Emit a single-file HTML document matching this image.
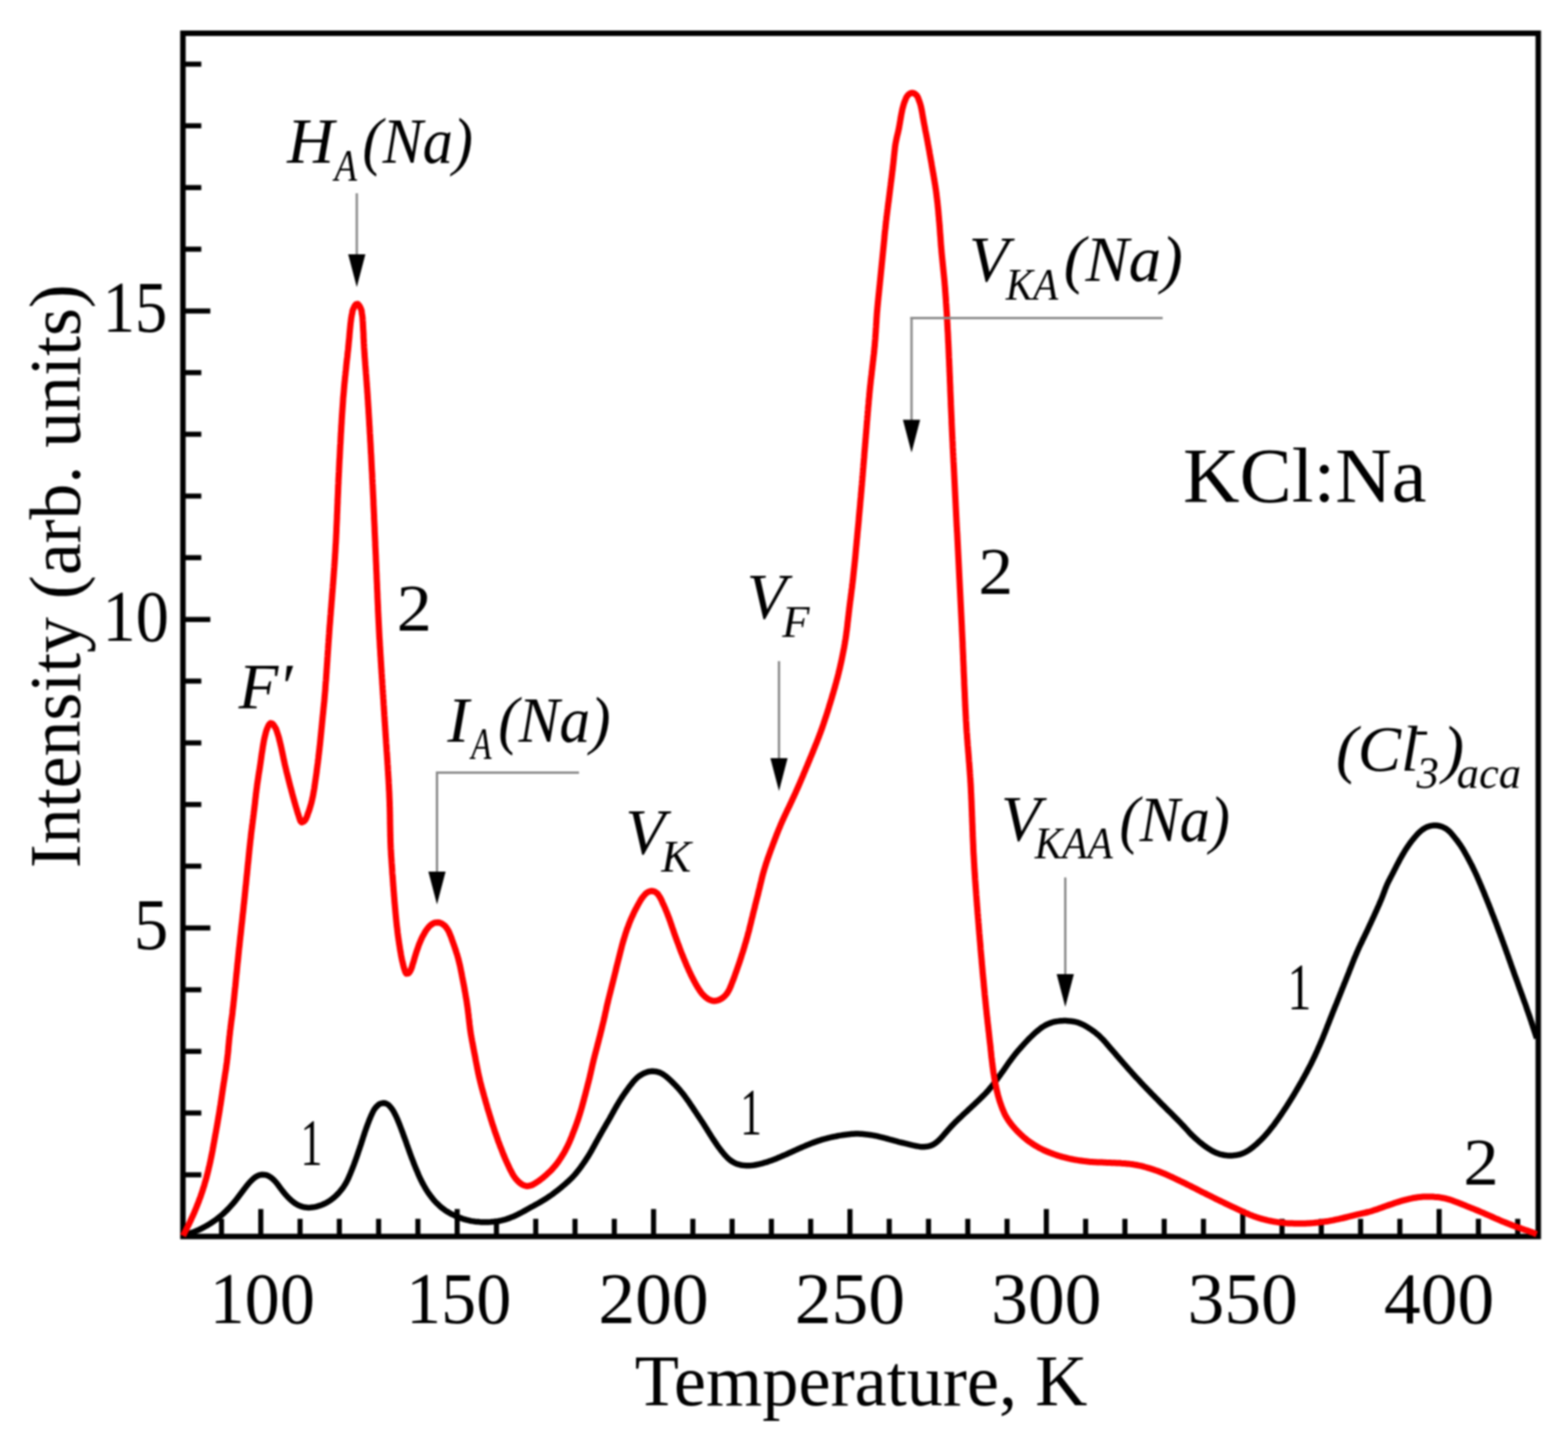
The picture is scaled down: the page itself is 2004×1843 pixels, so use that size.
<!DOCTYPE html>
<html><head><meta charset="utf-8"><title>KCl:Na</title>
<style>
html,body{margin:0;padding:0;background:#fff;overflow:hidden}
svg{display:block;filter:blur(0.8px)}
.r{font-family:"Liberation Serif","Times New Roman",serif;fill:#000}
.i{font-family:"Liberation Serif","Times New Roman",serif;font-style:italic;fill:#000}
</style></head><body>
<svg xmlns="http://www.w3.org/2000/svg" width="2004" height="1843" viewBox="0 0 2004 1843">
<rect width="2004" height="1843" fill="#fff"/>
<rect x="233.8" y="42.5" width="1732.2" height="1537.8" fill="none" stroke="#000" stroke-width="7"/>
<path d="M233.8,1501.4H257.3M233.8,1422.6H257.3M233.8,1343.7H257.3M233.8,1264.9H257.3M233.8,1186.0H268.8M233.8,1107.1H257.3M233.8,1028.3H257.3M233.8,949.4H257.3M233.8,870.6H257.3M233.8,791.7H268.8M233.8,712.8H257.3M233.8,634.0H257.3M233.8,555.1H257.3M233.8,476.3H257.3M233.8,397.4H268.8M233.8,318.5H257.3M233.8,239.7H257.3M233.8,160.8H257.3M233.8,82.0H257.3M283.1,1580.3V1557.8M333.3,1580.3V1545.3M383.5,1580.3V1557.8M433.7,1580.3V1557.8M483.9,1580.3V1557.8M534.1,1580.3V1557.8M584.3,1580.3V1545.3M634.5,1580.3V1557.8M684.7,1580.3V1557.8M734.9,1580.3V1557.8M785.1,1580.3V1557.8M835.3,1580.3V1545.3M885.5,1580.3V1557.8M935.7,1580.3V1557.8M985.9,1580.3V1557.8M1036.1,1580.3V1557.8M1086.3,1580.3V1545.3M1136.5,1580.3V1557.8M1186.7,1580.3V1557.8M1236.9,1580.3V1557.8M1287.1,1580.3V1557.8M1337.3,1580.3V1545.3M1387.5,1580.3V1557.8M1437.7,1580.3V1557.8M1487.9,1580.3V1557.8M1538.1,1580.3V1557.8M1588.3,1580.3V1545.3M1638.5,1580.3V1557.8M1688.7,1580.3V1557.8M1738.9,1580.3V1557.8M1789.1,1580.3V1557.8M1839.3,1580.3V1545.3M1889.5,1580.3V1557.8M1939.7,1580.3V1557.8" stroke="#000" stroke-width="6.5" fill="none"/>
<text x="131.3" y="424.3" class="r" font-size="94.0" textLength="82.5" lengthAdjust="spacingAndGlyphs">15</text>
<text x="131.1" y="819.0" class="r" font-size="94.0" textLength="84.7" lengthAdjust="spacingAndGlyphs">10</text>
<text x="170.9" y="1213.3" class="r" font-size="94.0" textLength="44.1" lengthAdjust="spacingAndGlyphs">5</text>
<text x="268.1" y="1690.5" class="r" font-size="94.0" textLength="134.3" lengthAdjust="spacingAndGlyphs">100</text>
<text x="519.1" y="1690.5" class="r" font-size="94.0" textLength="134.3" lengthAdjust="spacingAndGlyphs">150</text>
<text x="835.3" y="1690.5" text-anchor="middle" class="r" font-size="94">200</text>
<text x="1086.3" y="1690.5" text-anchor="middle" class="r" font-size="94">250</text>
<text x="1337.3" y="1690.5" text-anchor="middle" class="r" font-size="94">300</text>
<text x="1588.3" y="1690.5" text-anchor="middle" class="r" font-size="94">350</text>
<text x="1839.3" y="1690.5" text-anchor="middle" class="r" font-size="94">400</text>
<text x="811.3" y="1795.5" class="r" font-size="94" textLength="578.5" lengthAdjust="spacingAndGlyphs">Temperature, K</text>
<text transform="translate(102,1106) rotate(-90)" x="-3.4" y="0" class="r" font-size="94" textLength="746" lengthAdjust="spacingAndGlyphs">Intensity (arb. units)</text>
<path d="M234.0,1579.0L235.9,1578.3L237.9,1577.7L239.8,1577.1L241.7,1576.5L244.6,1575.6L246.5,1574.9L248.5,1574.2L250.4,1573.4L252.4,1572.6L254.4,1571.7L256.9,1570.5L259.4,1569.2L262.0,1567.8L263.8,1566.8L265.6,1565.7L267.4,1564.6L269.2,1563.5L270.9,1562.4L272.7,1561.2L274.3,1560.0L276.8,1558.3L279.1,1556.5L280.6,1555.3L282.3,1553.9L283.9,1552.5L285.6,1551.0L287.1,1549.5L288.7,1548.0L290.2,1546.5L291.7,1545.0L293.1,1543.5L295.1,1541.3L297.1,1539.1L299.0,1536.8L300.4,1535.2L301.7,1533.5L303.0,1531.9L304.2,1530.3L305.9,1528.0L307.6,1525.7L309.3,1523.4L310.6,1521.8L311.9,1520.0L313.3,1518.2L314.7,1516.4L316.1,1514.7L317.4,1513.1L318.7,1511.5L320.8,1509.3L322.3,1507.8L323.8,1506.5L326.0,1504.7L328.3,1503.3L330.2,1502.4L332.2,1501.7L335.1,1501.3L337.9,1501.4L340.8,1502.0L342.7,1502.8L345.2,1504.2L346.9,1505.4L348.6,1506.8L350.6,1508.7L352.3,1510.5L354.1,1512.8L355.4,1514.4L356.7,1516.2L358.1,1518.1L359.5,1520.0L360.9,1521.8L362.3,1523.5L363.6,1525.2L365.6,1527.4L367.0,1529.0L368.5,1530.6L370.0,1532.1L371.5,1533.5L373.1,1534.9L375.3,1536.7L377.6,1538.3L379.8,1539.6L381.8,1540.6L383.8,1541.4L385.9,1542.1L388.0,1542.7L390.1,1543.1L392.2,1543.3L394.2,1543.4L397.2,1543.3L399.2,1543.1L401.3,1542.8L403.5,1542.4L405.6,1541.8L407.6,1541.2L409.6,1540.6L412.3,1539.5L415.0,1538.3L417.6,1537.0L420.2,1535.4L421.9,1534.3L423.6,1533.1L425.9,1531.3L428.1,1529.4L429.6,1528.0L431.1,1526.5L432.6,1525.0L434.0,1523.4L435.4,1521.7L436.8,1520.0L438.1,1518.3L439.3,1516.6L440.9,1514.1L442.3,1511.6L443.7,1509.0L445.0,1506.4L446.2,1503.6L447.0,1501.8L447.8,1499.9L448.6,1497.9L449.4,1495.9L450.1,1494.1L451.2,1491.3L452.3,1488.6L453.3,1485.8L454.0,1483.9L454.7,1481.9L455.4,1480.0L456.1,1478.0L456.8,1476.0L457.5,1474.0L458.1,1472.0L458.8,1470.0L459.5,1468.0L460.4,1465.2L461.4,1462.4L462.0,1460.4L462.6,1458.5L463.3,1456.5L463.9,1454.5L464.5,1452.5L465.2,1450.6L465.8,1448.6L466.4,1446.7L467.4,1444.0L468.3,1441.3L469.3,1438.7L470.0,1436.6L470.9,1434.4L471.7,1432.2L472.6,1430.0L473.5,1427.8L474.4,1425.7L475.3,1423.8L476.5,1421.2L477.7,1419.0L478.9,1417.1L480.9,1414.6L482.6,1413.1L484.1,1411.6L486.1,1410.6L488.3,1410.0L490.5,1409.8L493.2,1410.3L495.6,1411.5L497.6,1413.3L499.5,1415.4L501.1,1417.5L502.5,1419.7L504.0,1422.3L504.9,1424.2L506.0,1426.3L507.0,1428.5L507.9,1430.6L508.7,1432.5L509.8,1435.1L510.8,1437.7L511.9,1440.5L512.6,1442.4L513.4,1444.4L514.1,1446.4L514.9,1448.4L515.6,1450.5L516.3,1452.5L517.1,1454.5L517.8,1456.5L518.5,1458.4L519.2,1460.3L519.8,1462.2L520.5,1464.1L521.2,1466.1L521.9,1468.0L522.6,1470.0L523.3,1471.9L524.0,1473.9L524.7,1475.8L525.4,1477.7L526.1,1479.6L527.2,1482.4L528.3,1485.2L529.0,1487.2L529.8,1489.1L530.6,1491.1L531.4,1493.1L532.2,1495.0L533.0,1496.9L533.8,1498.8L534.9,1501.5L536.1,1504.1L537.3,1506.7L538.2,1508.5L539.2,1510.5L540.2,1512.5L541.3,1514.4L542.3,1516.2L543.3,1518.0L544.3,1519.7L545.9,1522.2L547.5,1524.7L548.8,1526.4L550.0,1528.2L551.4,1529.9L552.7,1531.6L554.0,1533.2L555.3,1534.7L556.7,1536.2L558.1,1537.7L559.6,1539.1L561.1,1540.5L562.6,1541.9L564.8,1543.8L567.2,1545.6L568.8,1546.8L571.3,1548.4L573.1,1549.4L574.9,1550.5L576.9,1551.6L579.3,1552.7L581.9,1554.0L583.7,1554.8L585.7,1555.6L587.7,1556.4L589.7,1557.1L591.6,1557.8L593.6,1558.4L596.3,1559.2L598.5,1559.7L600.6,1560.2L602.8,1560.6L604.9,1560.9L607.0,1561.2L609.1,1561.4L611.1,1561.6L613.1,1561.8L615.2,1561.9L618.1,1562.0L621.1,1562.0L624.0,1561.9L627.0,1561.8L629.9,1561.6L632.9,1561.2L634.9,1561.0L636.9,1560.7L638.9,1560.3L640.9,1559.9L642.8,1559.4L644.8,1558.9L646.8,1558.3L648.8,1557.6L650.9,1556.9L652.9,1556.1L655.0,1555.3L657.6,1554.2L660.1,1553.0L662.8,1551.6L664.6,1550.7L666.4,1549.7L668.3,1548.7L670.3,1547.6L672.2,1546.6L674.1,1545.5L675.9,1544.5L678.4,1543.1L681.0,1541.7L682.7,1540.8L684.5,1539.7L686.3,1538.7L688.2,1537.7L690.0,1536.6L691.8,1535.6L693.6,1534.5L696.1,1533.0L698.6,1531.5L700.9,1529.9L702.7,1528.7L704.5,1527.5L706.2,1526.3L707.8,1525.0L709.4,1523.8L711.8,1522.0L714.1,1520.2L716.4,1518.3L718.0,1517.0L719.5,1515.7L721.1,1514.4L722.6,1513.1L724.1,1511.7L725.6,1510.4L727.1,1509.0L728.6,1507.6L730.1,1506.1L731.6,1504.6L733.1,1503.0L734.5,1501.5L736.4,1499.3L737.6,1497.7L738.9,1496.1L740.3,1494.4L741.6,1492.6L742.9,1490.8L744.2,1488.9L745.5,1487.1L746.8,1485.3L747.9,1483.6L749.5,1481.2L751.0,1478.9L752.5,1476.5L753.7,1474.6L754.7,1472.7L756.2,1470.2L757.6,1467.7L759.0,1465.2L759.9,1463.4L761.0,1461.5L762.0,1459.6L763.1,1457.7L764.2,1455.7L765.2,1453.8L766.3,1451.9L767.3,1450.1L768.8,1447.5L770.2,1445.0L771.7,1442.4L773.2,1439.8L774.7,1437.2L776.2,1434.6L777.7,1432.1L779.2,1429.5L780.6,1426.9L782.1,1424.2L783.1,1422.4L784.2,1420.5L785.2,1418.6L786.3,1416.7L787.3,1414.9L788.4,1413.0L789.4,1411.2L790.5,1409.5L791.5,1407.7L792.6,1406.0L793.7,1404.3L794.8,1402.6L795.9,1400.9L797.1,1399.2L798.2,1397.5L799.4,1395.8L800.7,1394.1L801.9,1392.4L803.1,1390.7L804.3,1389.1L806.1,1386.8L807.4,1385.2L808.7,1383.4L810.1,1381.8L811.5,1380.3L812.9,1378.8L814.3,1377.4L815.9,1376.1L817.7,1374.8L819.5,1373.7L821.3,1372.6L823.2,1371.7L825.1,1370.9L827.0,1370.2L829.9,1369.5L832.8,1369.1L835.7,1369.2L837.7,1369.4L839.7,1369.8L841.8,1370.4L843.8,1371.1L845.6,1372.0L848.1,1373.5L850.5,1375.2L852.1,1376.5L853.7,1377.9L855.3,1379.3L856.8,1380.7L858.3,1382.1L859.7,1383.5L861.2,1385.0L862.7,1386.4L864.1,1388.0L865.6,1389.5L867.0,1391.1L868.4,1392.6L870.2,1394.8L872.1,1397.1L873.9,1399.4L875.1,1401.0L876.3,1402.7L877.5,1404.3L878.7,1406.0L879.9,1407.7L881.1,1409.4L882.2,1411.1L883.4,1412.8L884.6,1414.6L885.8,1416.4L886.9,1418.1L888.1,1419.9L889.3,1421.6L890.4,1423.4L891.6,1425.1L892.7,1426.8L893.9,1428.5L895.0,1430.2L896.2,1432.0L897.3,1433.7L898.5,1435.4L899.6,1437.2L900.7,1438.9L901.8,1440.7L902.9,1442.4L904.0,1444.2L905.1,1446.0L906.2,1447.7L907.3,1449.5L908.4,1451.3L909.5,1453.0L910.6,1454.7L911.7,1456.4L912.9,1458.2L914.1,1460.0L915.4,1461.8L916.6,1463.6L917.8,1465.3L919.0,1467.0L920.3,1468.6L921.5,1470.3L922.8,1471.9L924.1,1473.5L925.5,1475.2L926.9,1476.8L928.3,1478.3L929.7,1479.8L931.9,1481.8L934.1,1483.4L935.8,1484.6L937.5,1485.6L940.2,1486.9L942.9,1487.9L945.7,1488.7L948.6,1489.2L951.5,1489.6L953.5,1489.7L955.7,1489.7L957.8,1489.7L960.5,1489.5L963.3,1489.2L966.2,1488.7L968.3,1488.3L970.3,1487.8L972.4,1487.3L974.5,1486.8L976.6,1486.2L978.5,1485.7L981.4,1484.8L983.3,1484.1L985.2,1483.4L987.1,1482.7L989.1,1482.0L991.1,1481.2L993.1,1480.4L995.1,1479.5L997.1,1478.7L999.1,1477.8L1001.0,1477.0L1003.7,1475.9L1006.4,1474.7L1008.2,1473.8L1010.1,1473.0L1012.0,1472.1L1013.9,1471.3L1015.7,1470.4L1017.6,1469.6L1019.5,1468.7L1021.3,1467.9L1024.0,1466.7L1025.9,1465.9L1027.8,1465.1L1029.7,1464.3L1031.5,1463.5L1033.4,1462.8L1035.3,1462.0L1038.0,1460.9L1040.8,1459.9L1043.6,1458.9L1046.4,1457.9L1048.3,1457.3L1050.2,1456.7L1052.1,1456.1L1054.1,1455.6L1056.0,1455.1L1058.9,1454.3L1060.9,1453.9L1062.8,1453.4L1064.8,1453.0L1066.8,1452.6L1068.8,1452.2L1070.8,1451.8L1072.7,1451.4L1074.7,1451.1L1076.8,1450.8L1078.8,1450.5L1080.9,1450.2L1082.9,1449.9L1085.0,1449.7L1087.1,1449.5L1089.1,1449.3L1091.1,1449.2L1093.2,1449.1L1095.2,1449.1L1097.2,1449.1L1099.3,1449.2L1101.4,1449.3L1103.5,1449.5L1105.6,1449.7L1107.6,1449.9L1109.7,1450.2L1111.8,1450.5L1113.8,1450.8L1115.9,1451.1L1117.9,1451.5L1119.9,1451.9L1122.0,1452.3L1124.0,1452.8L1126.1,1453.3L1128.2,1453.8L1130.3,1454.4L1132.4,1455.0L1134.5,1455.5L1136.5,1456.1L1138.4,1456.6L1141.3,1457.4L1144.0,1458.2L1146.1,1458.7L1148.2,1459.3L1150.2,1459.8L1153.1,1460.5L1155.9,1461.2L1157.9,1461.7L1159.9,1462.2L1162.8,1462.9L1164.9,1463.4L1167.0,1463.9L1169.2,1464.3L1171.3,1464.8L1173.3,1465.1L1175.3,1465.4L1178.2,1465.7L1181.0,1465.7L1183.2,1465.6L1185.3,1465.3L1187.2,1464.9L1189.9,1464.1L1192.4,1463.0L1194.8,1461.6L1197.1,1459.8L1198.8,1458.4L1200.8,1456.5L1202.6,1454.6L1204.5,1452.5L1205.9,1450.9L1207.3,1449.2L1208.8,1447.5L1210.3,1445.8L1211.7,1444.1L1213.2,1442.5L1214.6,1440.9L1216.0,1439.4L1217.4,1437.9L1218.8,1436.5L1220.2,1435.0L1221.6,1433.6L1223.1,1432.2L1224.5,1430.8L1226.7,1428.7L1228.9,1426.7L1231.0,1424.6L1232.5,1423.2L1234.1,1421.8L1235.6,1420.4L1237.1,1419.0L1238.6,1417.6L1240.1,1416.2L1241.6,1414.8L1243.2,1413.3L1244.7,1411.9L1246.2,1410.5L1247.7,1409.1L1249.2,1407.7L1250.6,1406.3L1252.1,1404.9L1253.5,1403.5L1255.0,1402.1L1256.4,1400.6L1257.9,1399.2L1259.3,1397.7L1260.8,1396.1L1262.2,1394.6L1263.6,1393.0L1265.5,1390.7L1267.4,1388.4L1268.7,1386.9L1269.9,1385.3L1271.2,1383.6L1272.4,1381.9L1273.7,1380.3L1274.9,1378.6L1276.1,1376.9L1277.3,1375.3L1278.5,1373.7L1279.6,1372.0L1280.9,1370.3L1282.1,1368.6L1283.3,1366.8L1284.5,1365.1L1285.7,1363.3L1286.9,1361.6L1288.1,1359.9L1289.3,1358.2L1290.5,1356.5L1291.7,1354.9L1292.9,1353.3L1294.1,1351.7L1295.4,1350.0L1296.7,1348.3L1298.0,1346.7L1299.3,1345.1L1300.6,1343.5L1301.9,1342.0L1303.3,1340.5L1304.6,1339.0L1305.9,1337.5L1307.3,1336.0L1308.6,1334.5L1310.0,1333.0L1311.4,1331.5L1312.8,1330.0L1314.2,1328.5L1316.3,1326.4L1318.4,1324.4L1320.4,1322.4L1322.7,1320.3L1324.3,1318.9L1326.0,1317.5L1327.7,1316.1L1329.3,1314.8L1331.0,1313.5L1332.7,1312.4L1335.2,1310.9L1337.0,1309.9L1338.9,1309.0L1340.9,1308.1L1342.9,1307.4L1344.9,1306.7L1346.9,1306.2L1348.9,1305.7L1351.0,1305.4L1353.1,1305.1L1355.3,1304.8L1357.4,1304.7L1359.6,1304.6L1361.8,1304.6L1363.9,1304.7L1366.9,1304.9L1369.8,1305.2L1372.8,1305.7L1375.7,1306.4L1378.5,1307.2L1380.4,1308.0L1382.3,1308.8L1384.2,1309.7L1386.2,1310.7L1388.1,1311.8L1390.0,1312.9L1391.8,1314.1L1394.3,1315.7L1396.7,1317.4L1398.4,1318.6L1400.0,1319.8L1401.6,1321.2L1403.3,1322.5L1404.9,1323.9L1406.3,1325.3L1408.3,1327.3L1410.2,1329.2L1412.0,1331.3L1413.4,1332.8L1414.8,1334.5L1416.2,1336.2L1417.8,1338.0L1419.3,1339.8L1420.6,1341.3L1422.3,1343.2L1423.9,1345.1L1425.7,1347.1L1427.5,1349.3L1429.5,1351.6L1430.9,1353.1L1432.3,1354.8L1433.7,1356.4L1435.1,1358.0L1436.5,1359.6L1438.0,1361.3L1439.4,1362.9L1440.8,1364.5L1442.3,1366.2L1443.7,1367.8L1445.1,1369.3L1446.5,1370.9L1447.8,1372.4L1449.2,1373.9L1450.5,1375.4L1451.9,1376.9L1453.3,1378.3L1454.7,1379.8L1456.1,1381.3L1457.4,1382.8L1458.8,1384.3L1460.2,1385.7L1461.6,1387.2L1463.0,1388.7L1464.4,1390.1L1465.8,1391.6L1467.2,1393.0L1468.6,1394.5L1470.0,1395.9L1471.4,1397.4L1472.8,1398.8L1474.9,1400.9L1477.0,1403.1L1479.1,1405.2L1480.5,1406.6L1481.9,1408.1L1483.4,1409.6L1484.8,1411.1L1486.3,1412.6L1487.9,1414.1L1489.4,1415.6L1490.9,1417.1L1492.4,1418.7L1494.0,1420.2L1495.5,1421.7L1497.0,1423.2L1498.5,1424.7L1499.9,1426.1L1501.3,1427.5L1503.4,1429.6L1505.3,1431.5L1507.1,1433.4L1508.9,1435.2L1510.3,1436.7L1511.9,1438.4L1513.5,1440.1L1515.0,1441.8L1516.4,1443.3L1517.8,1444.8L1519.7,1446.9L1521.6,1449.0L1523.6,1451.0L1525.8,1453.0L1527.3,1454.5L1528.9,1455.9L1530.5,1457.3L1532.1,1458.7L1533.6,1460.0L1535.2,1461.2L1536.8,1462.5L1538.4,1463.7L1540.0,1464.9L1541.7,1466.1L1543.5,1467.3L1545.3,1468.5L1547.1,1469.6L1548.9,1470.7L1550.7,1471.7L1552.5,1472.6L1555.2,1473.8L1558.1,1474.8L1560.1,1475.4L1562.1,1475.8L1564.1,1476.2L1566.1,1476.6L1568.2,1476.8L1570.2,1476.9L1572.2,1477.0L1574.2,1476.9L1576.3,1476.8L1578.4,1476.6L1580.4,1476.3L1582.5,1475.9L1584.5,1475.5L1587.3,1474.5L1590.0,1473.4L1591.8,1472.5L1593.6,1471.5L1595.4,1470.4L1597.1,1469.3L1598.8,1468.0L1600.5,1466.7L1602.1,1465.5L1603.6,1464.2L1605.2,1462.9L1606.7,1461.5L1608.2,1460.1L1609.8,1458.6L1611.3,1457.1L1612.8,1455.6L1614.3,1454.1L1616.3,1451.9L1618.2,1449.7L1620.2,1447.5L1621.5,1445.9L1622.8,1444.4L1624.0,1442.7L1625.3,1441.1L1626.6,1439.5L1627.9,1437.9L1629.1,1436.3L1630.2,1434.6L1631.4,1433.0L1632.6,1431.3L1633.8,1429.7L1635.0,1428.0L1636.2,1426.2L1637.4,1424.5L1638.5,1422.8L1639.7,1421.0L1640.8,1419.3L1641.9,1417.7L1643.1,1415.9L1644.2,1414.2L1645.3,1412.4L1646.5,1410.6L1647.6,1408.8L1648.7,1407.1L1649.8,1405.3L1651.4,1402.8L1652.8,1400.4L1653.9,1398.7L1654.9,1396.9L1656.4,1394.4L1657.8,1392.0L1659.3,1389.4L1660.4,1387.5L1661.5,1385.5L1662.8,1383.3L1664.1,1381.0L1665.4,1378.6L1666.9,1376.0L1667.9,1374.1L1668.9,1372.3L1669.9,1370.4L1670.9,1368.5L1671.9,1366.6L1672.9,1364.7L1673.9,1362.8L1674.9,1361.0L1675.8,1359.1L1677.1,1356.4L1678.0,1354.6L1678.9,1352.7L1679.8,1350.8L1680.7,1349.0L1681.5,1347.1L1682.4,1345.2L1683.3,1343.3L1684.1,1341.4L1684.9,1339.6L1685.7,1337.7L1686.6,1335.8L1687.4,1333.9L1688.2,1332.0L1689.0,1330.1L1689.8,1328.2L1690.6,1326.4L1691.3,1324.5L1692.1,1322.6L1692.8,1320.7L1693.6,1318.9L1694.3,1317.0L1695.1,1315.1L1695.8,1313.2L1696.5,1311.3L1697.3,1309.5L1698.0,1307.6L1698.8,1305.7L1699.5,1303.8L1700.2,1301.9L1701.0,1300.1L1701.7,1298.2L1702.5,1296.3L1703.2,1294.4L1704.0,1292.5L1704.7,1290.7L1705.5,1288.8L1706.2,1286.9L1707.0,1285.0L1707.8,1283.1L1708.5,1281.3L1709.3,1279.4L1710.0,1277.5L1710.8,1275.6L1711.5,1273.7L1712.3,1271.9L1713.0,1270.0L1713.8,1268.1L1714.5,1266.2L1715.3,1264.3L1716.0,1262.5L1716.8,1260.6L1717.5,1258.7L1718.3,1256.8L1719.1,1254.9L1719.8,1253.1L1720.6,1251.2L1721.3,1249.3L1722.1,1247.4L1722.8,1245.5L1723.6,1243.7L1724.3,1241.8L1725.0,1239.9L1725.8,1238.0L1726.5,1236.1L1727.3,1234.2L1728.0,1232.4L1728.7,1230.5L1729.5,1228.6L1730.2,1226.7L1731.0,1224.8L1731.8,1223.0L1732.6,1221.1L1733.4,1219.2L1734.2,1217.3L1735.0,1215.5L1736.2,1212.8L1737.0,1210.9L1737.9,1209.1L1738.7,1207.3L1739.6,1205.5L1740.5,1203.7L1741.3,1201.8L1742.2,1200.0L1743.1,1198.2L1744.0,1196.4L1744.8,1194.6L1745.7,1192.8L1747.0,1190.1L1748.3,1187.3L1749.1,1185.5L1750.0,1183.6L1750.9,1181.7L1751.8,1179.8L1752.7,1177.8L1753.6,1175.9L1754.5,1173.9L1755.4,1172.0L1756.2,1170.2L1757.4,1167.5L1758.6,1164.9L1759.7,1162.5L1760.7,1160.1L1761.7,1158.0L1762.6,1156.0L1763.4,1154.0L1764.2,1152.1L1765.4,1149.5L1766.4,1146.9L1767.4,1144.3L1768.2,1142.2L1769.0,1140.2L1769.7,1138.2L1770.4,1136.2L1771.2,1134.3L1772.0,1132.3L1772.8,1130.4L1773.7,1128.5L1774.6,1126.6L1775.6,1124.7L1776.6,1122.8L1777.6,1120.8L1778.6,1119.0L1779.5,1117.1L1780.5,1115.3L1781.4,1113.4L1782.3,1111.6L1783.3,1109.8L1784.2,1107.9L1785.1,1106.1L1786.1,1104.2L1787.1,1102.4L1788.1,1100.5L1789.1,1098.6L1790.1,1096.7L1791.2,1094.9L1792.2,1093.0L1793.3,1091.2L1794.4,1089.4L1795.4,1087.7L1796.5,1085.9L1797.6,1084.2L1798.8,1082.5L1799.9,1080.8L1801.6,1078.3L1802.9,1076.6L1804.1,1075.0L1805.4,1073.4L1806.7,1071.8L1808.0,1070.2L1809.4,1068.6L1810.8,1067.0L1812.3,1065.4L1813.8,1063.9L1815.4,1062.4L1817.7,1060.6L1819.4,1059.4L1821.3,1058.3L1823.2,1057.3L1825.2,1056.5L1827.2,1055.9L1829.3,1055.4L1831.4,1055.1L1833.5,1055.0L1835.6,1055.1L1837.7,1055.3L1839.8,1055.7L1841.9,1056.3L1843.9,1057.0L1846.5,1058.3L1848.2,1059.3L1850.6,1061.1L1852.7,1062.9L1854.7,1065.0L1856.0,1066.6L1857.4,1068.2L1859.2,1070.5L1860.9,1072.7L1862.8,1075.0L1864.0,1076.8L1865.4,1078.7L1866.8,1080.7L1868.1,1082.7L1869.4,1084.7L1870.7,1087.0L1872.1,1089.4L1873.1,1091.2L1874.1,1093.0L1875.2,1094.9L1876.2,1096.8L1877.2,1098.8L1878.3,1100.8L1879.3,1102.8L1880.4,1104.8L1881.4,1106.8L1882.4,1108.8L1883.3,1110.8L1884.3,1112.7L1885.5,1115.3L1886.7,1117.8L1887.9,1120.5L1889.0,1123.1L1890.2,1125.8L1891.0,1127.7L1891.8,1129.5L1892.6,1131.4L1893.4,1133.3L1894.2,1135.2L1895.0,1137.1L1895.8,1139.0L1896.6,1140.9L1897.3,1142.8L1898.1,1144.7L1898.9,1146.6L1899.7,1148.6L1900.5,1150.5L1901.2,1152.4L1902.0,1154.3L1903.1,1157.0L1904.2,1159.8L1905.3,1162.5L1906.3,1165.3L1907.4,1168.1L1908.1,1169.9L1908.9,1171.8L1909.6,1173.7L1910.3,1175.6L1911.0,1177.5L1911.8,1179.4L1912.5,1181.3L1913.2,1183.2L1913.9,1185.1L1914.6,1187.0L1915.3,1188.9L1916.0,1190.8L1916.8,1192.8L1917.5,1194.7L1918.2,1196.6L1918.9,1198.5L1919.9,1201.3L1921.0,1204.1L1922.0,1207.0L1922.7,1208.8L1923.4,1210.7L1924.0,1212.6L1924.7,1214.5L1925.4,1216.4L1926.1,1218.4L1926.8,1220.3L1927.5,1222.2L1928.1,1224.1L1928.8,1226.0L1929.5,1227.9L1930.2,1229.9L1930.9,1231.8L1931.5,1233.7L1932.2,1235.6L1932.9,1237.5L1933.6,1239.5L1934.3,1241.4L1934.9,1243.3L1935.6,1245.2L1936.3,1247.1L1937.0,1249.0L1937.7,1250.9L1938.4,1252.8L1939.1,1254.8L1939.8,1256.7L1940.5,1258.7L1941.2,1260.7L1941.9,1262.7L1942.6,1264.7L1943.4,1266.7L1944.1,1268.7L1944.8,1270.6L1945.5,1272.6L1946.2,1274.6L1946.9,1276.5L1947.6,1278.5L1948.3,1280.4L1949.0,1282.3L1950.0,1285.1L1950.9,1287.8L1951.8,1290.4L1952.7,1292.9L1953.6,1295.5L1954.3,1297.6L1955.1,1299.8L1955.8,1302.0L1956.5,1304.1L1957.2,1306.1L1957.8,1308.1L1958.5,1310.0L1959.4,1312.8L1960.3,1315.5L1961.2,1318.4L1962.1,1321.2L1962.7,1323.1L1963.4,1325.1L1964.0,1327.0" fill="none" stroke="#000" stroke-width="7.5" stroke-linejoin="round"/>
<path d="M234.0,1579.5L234.9,1577.6L235.8,1575.8L236.7,1573.9L237.7,1572.1L238.6,1570.3L239.5,1568.4L240.4,1566.6L241.3,1564.8L242.2,1563.0L243.1,1561.1L244.0,1559.2L244.8,1557.3L245.7,1555.4L246.6,1553.5L247.4,1551.6L248.3,1549.7L249.0,1547.9L249.8,1546.0L250.6,1544.2L251.3,1542.3L252.1,1540.4L252.8,1538.5L253.6,1536.5L254.3,1534.6L255.0,1532.6L255.8,1530.7L256.5,1528.7L257.1,1526.8L257.8,1524.9L258.5,1522.9L259.1,1521.0L259.7,1519.0L260.3,1517.1L261.0,1515.1L261.5,1513.2L262.1,1511.2L262.7,1509.2L263.2,1507.3L263.8,1505.3L264.3,1503.3L264.8,1501.3L265.3,1499.4L265.8,1497.4L266.3,1495.4L266.7,1493.4L267.2,1491.4L267.7,1489.4L268.1,1487.5L268.6,1485.5L269.0,1483.5L269.4,1481.5L269.8,1479.6L270.2,1477.6L270.6,1475.6L271.0,1473.7L271.4,1471.7L271.8,1469.7L272.1,1467.7L272.5,1465.8L272.8,1463.8L273.2,1461.8L273.6,1459.8L273.9,1457.8L274.3,1455.9L274.6,1453.9L275.0,1451.9L275.3,1449.9L275.7,1448.0L276.1,1446.0L276.4,1444.0L276.8,1442.0L277.1,1440.1L277.5,1438.1L277.8,1436.1L278.2,1434.1L278.5,1432.2L279.0,1429.2L279.5,1426.3L280.0,1423.3L280.5,1420.3L280.8,1418.3L281.1,1416.3L281.4,1414.2L281.8,1412.2L282.1,1410.2L282.4,1408.1L282.7,1406.1L283.0,1404.1L283.3,1402.0L283.6,1400.0L283.9,1398.0L284.2,1395.9L284.5,1393.9L284.8,1391.9L285.1,1389.8L285.4,1387.8L285.7,1385.8L286.0,1383.7L286.4,1381.7L286.7,1379.7L287.0,1377.6L287.3,1375.6L287.6,1373.5L287.9,1371.5L288.3,1369.5L288.6,1367.4L288.9,1365.4L289.2,1363.3L289.4,1361.3L289.7,1359.3L290.0,1357.2L290.2,1355.2L290.5,1353.1L290.7,1351.1L290.9,1349.1L291.2,1347.0L291.4,1345.0L291.6,1343.0L291.8,1340.9L291.9,1338.9L292.1,1336.9L292.3,1334.8L292.5,1332.8L292.7,1330.7L292.9,1328.7L293.1,1326.6L293.3,1324.5L293.6,1322.5L293.8,1320.5L294.1,1317.5L294.5,1314.7L294.8,1311.9L295.2,1309.2L295.5,1306.3L295.9,1303.4L296.2,1301.4L296.5,1299.2L296.8,1296.9L297.1,1294.4L297.3,1292.0L297.6,1289.5L297.9,1287.1L298.2,1284.8L298.4,1282.3L298.7,1279.8L299.0,1277.1L299.3,1274.2L299.6,1271.2L299.8,1269.2L300.0,1267.2L300.2,1265.1L300.4,1263.1L300.7,1261.0L300.9,1258.9L301.1,1256.8L301.3,1254.7L301.5,1252.5L301.7,1250.4L301.9,1248.3L302.1,1246.1L302.4,1243.9L302.6,1241.8L302.8,1239.7L303.0,1237.5L303.2,1235.4L303.4,1233.3L303.6,1231.2L303.9,1229.1L304.1,1227.0L304.3,1225.0L304.5,1222.9L304.7,1220.9L305.0,1218.0L305.2,1215.9L305.4,1213.9L305.6,1211.9L305.9,1209.9L306.1,1207.9L306.3,1205.9L306.6,1202.9L306.9,1200.0L307.2,1197.0L307.6,1194.1L307.9,1191.1L308.2,1188.2L308.5,1185.2L308.8,1182.3L309.2,1179.3L309.5,1176.4L309.8,1173.4L310.1,1170.4L310.3,1168.4L310.6,1166.4L310.8,1164.4L311.0,1162.3L311.2,1160.3L311.4,1158.3L311.6,1156.2L311.9,1154.1L312.1,1152.0L312.3,1150.0L312.6,1147.1L312.9,1144.2L313.2,1141.2L313.4,1139.2L313.6,1137.1L313.8,1135.0L314.0,1132.9L314.3,1130.8L314.5,1128.7L314.7,1126.5L314.9,1124.4L315.1,1122.2L315.3,1120.1L315.6,1117.9L315.8,1115.7L316.0,1113.6L316.2,1111.4L316.4,1109.3L316.6,1107.1L316.8,1105.0L317.1,1102.9L317.3,1100.8L317.5,1098.6L317.7,1096.6L317.9,1094.5L318.1,1092.5L318.3,1090.5L318.5,1088.5L318.8,1085.5L319.1,1082.7L319.4,1080.0L319.7,1077.5L319.9,1075.2L320.2,1072.8L320.5,1070.6L320.7,1068.1L321.0,1065.6L321.3,1063.1L321.6,1060.7L321.9,1058.5L322.2,1056.4L322.4,1054.4L322.8,1051.5L323.1,1048.7L323.5,1046.0L323.8,1043.3L324.2,1040.5L324.5,1037.6L324.8,1035.6L325.0,1033.5L325.3,1031.4L325.5,1029.3L325.8,1027.3L326.0,1025.2L326.2,1023.2L326.4,1021.2L326.7,1019.2L327.0,1016.2L327.2,1014.2L327.5,1012.3L327.7,1010.3L328.0,1008.2L328.3,1006.2L328.5,1004.2L328.8,1002.2L329.1,1000.1L329.4,998.1L329.7,996.1L330.0,994.1L330.3,992.0L330.6,990.0L330.9,988.0L331.3,986.0L331.6,984.0L331.9,982.0L332.2,980.0L332.5,978.0L332.8,976.0L333.1,973.9L333.4,971.7L333.7,969.6L334.0,967.4L334.3,965.2L334.6,963.0L335.0,960.8L335.3,958.8L335.6,956.8L336.0,954.0L336.5,951.3L336.9,948.8L337.4,946.4L337.8,944.1L338.3,942.0L338.8,940.0L339.3,938.0L340.0,935.2L340.7,933.1L341.7,930.5L342.8,928.0L344.1,925.8L345.8,924.3L348.0,924.9L349.7,926.6L351.2,928.9L352.6,931.3L353.5,933.6L354.3,936.1L355.2,938.9L355.9,941.0L356.5,943.1L357.0,945.4L357.6,947.6L358.1,949.6L358.7,952.3L359.4,955.1L360.0,958.0L360.4,960.0L360.9,962.1L361.3,964.3L361.8,966.4L362.2,968.6L362.7,970.7L363.1,972.8L363.6,974.9L364.0,977.0L364.5,978.9L365.2,981.9L365.7,983.9L366.1,985.9L366.6,987.9L367.2,990.0L367.7,992.0L368.2,994.0L368.7,996.0L369.2,998.0L369.9,1000.8L370.6,1003.5L371.3,1006.2L371.9,1008.1L372.4,1010.3L373.0,1012.4L373.5,1014.5L374.1,1016.6L374.6,1018.5L375.4,1021.3L376.1,1024.0L376.9,1026.7L377.5,1028.8L378.1,1030.9L378.7,1032.9L379.3,1034.8L380.1,1037.6L380.9,1040.3L381.6,1042.3L382.4,1044.7L383.2,1047.2L384.1,1049.4L385.6,1051.0L388.5,1049.8L390.1,1048.1L391.1,1046.3L392.1,1044.0L392.9,1042.0L393.5,1039.9L394.3,1038.0L395.0,1035.9L395.7,1033.9L396.5,1031.1L397.1,1029.1L397.7,1027.0L398.2,1025.0L398.7,1022.9L399.1,1021.0L399.6,1019.0L400.0,1016.9L400.4,1014.9L400.7,1012.9L401.1,1010.9L401.6,1008.1L402.0,1005.2L402.3,1003.2L402.6,1001.1L403.0,998.3L403.4,995.6L403.8,992.8L404.1,990.8L404.4,988.7L404.7,986.6L404.9,984.4L405.2,982.2L405.5,979.9L405.8,977.8L406.2,975.0L406.5,972.1L406.9,969.2L407.1,967.2L407.3,965.1L407.6,963.1L407.8,961.0L408.1,958.9L408.3,956.8L408.5,954.7L408.8,952.6L409.0,950.6L409.2,948.6L409.4,946.5L409.6,944.5L409.8,942.5L410.0,940.5L410.2,938.5L410.4,936.5L410.6,934.5L410.8,932.4L411.0,930.4L411.2,928.4L411.4,926.3L411.6,924.3L411.8,922.2L412.0,920.2L412.2,918.1L412.5,915.2L412.8,912.5L413.1,909.8L413.3,907.2L413.6,904.4L413.9,901.5L414.1,899.3L414.4,897.0L414.6,894.5L414.8,891.9L415.0,889.4L415.2,887.2L415.4,885.0L415.6,882.8L415.8,880.4L415.9,877.9L416.1,875.3L416.3,872.5L416.6,869.6L416.8,866.7L417.0,863.7L417.1,861.7L417.3,859.7L417.4,857.6L417.5,855.6L417.7,853.5L417.8,851.4L418.0,849.2L418.1,847.1L418.3,845.0L418.4,842.8L418.5,840.7L418.7,838.5L418.8,836.3L419.0,834.1L419.1,832.0L419.3,829.8L419.4,827.6L419.6,825.4L419.7,823.2L419.9,821.0L420.0,818.8L420.2,816.6L420.4,814.4L420.5,812.2L420.7,810.0L420.8,807.9L421.0,805.2L421.2,802.4L421.4,799.6L421.7,796.8L421.9,793.9L422.1,791.0L422.3,788.0L422.6,785.1L422.8,782.1L423.0,779.1L423.2,777.1L423.4,775.1L423.5,773.1L423.7,771.1L423.8,769.1L424.0,767.1L424.2,765.1L424.3,763.0L424.5,761.0L424.6,759.0L424.8,757.0L425.0,754.9L425.1,752.9L425.3,750.8L425.4,748.8L425.6,746.8L425.8,744.7L425.9,742.7L426.1,740.6L426.2,738.6L426.4,736.5L426.5,734.5L426.7,732.5L426.8,730.4L427.0,728.4L427.1,726.3L427.3,724.3L427.4,722.3L427.6,720.2L427.7,718.2L427.8,716.2L428.0,714.1L428.1,712.1L428.2,710.1L428.3,708.1L428.5,706.1L428.6,704.1L428.7,702.1L428.8,700.1L428.9,698.1L429.0,696.1L429.2,694.1L429.3,692.1L429.4,690.1L429.5,688.0L429.6,686.0L429.7,684.0L429.8,682.0L429.9,680.0L430.0,678.0L430.0,675.9L430.1,673.9L430.2,671.9L430.3,669.9L430.4,667.9L430.5,665.9L430.6,663.8L430.7,661.8L430.7,659.8L430.8,657.8L430.9,655.8L431.0,653.7L431.1,651.7L431.1,649.7L431.2,647.7L431.3,645.7L431.4,643.7L431.5,641.7L431.5,639.6L431.6,637.6L431.7,635.6L431.8,633.6L431.9,631.6L432.0,629.6L432.1,626.6L432.2,623.6L432.3,620.7L432.5,617.7L432.6,614.7L432.7,611.8L432.9,608.8L433.0,605.9L433.2,603.0L433.3,600.1L433.4,598.1L433.5,596.0L433.6,593.9L433.7,591.8L433.8,589.7L433.9,587.6L434.1,585.5L434.2,583.4L434.3,581.3L434.4,579.2L434.5,577.1L434.6,575.0L434.7,572.9L434.8,570.8L434.9,568.7L435.1,566.5L435.2,564.5L435.3,562.4L435.4,560.3L435.5,558.2L435.6,556.1L435.7,554.0L435.9,551.9L436.0,549.9L436.1,547.8L436.2,545.8L436.3,543.7L436.5,541.7L436.6,539.6L436.7,537.6L436.8,535.6L437.0,532.6L437.2,529.6L437.4,526.7L437.6,523.8L437.8,521.0L438.0,518.2L438.2,515.5L438.4,512.9L438.5,510.3L438.7,507.8L439.0,505.0L439.2,502.7L439.4,500.3L439.6,497.8L439.8,495.4L440.0,492.9L440.2,490.6L440.5,488.3L440.7,486.0L440.9,483.7L441.1,481.5L441.4,479.2L441.6,477.0L441.8,474.8L442.1,472.7L442.3,470.6L442.5,468.5L442.7,466.4L443.0,463.5L443.3,460.8L443.6,458.2L443.9,455.9L444.1,453.8L444.3,451.7L444.6,449.1L444.9,446.7L445.1,444.6L445.4,441.8L445.6,439.1L445.9,436.2L446.2,433.3L446.5,430.4L446.6,428.3L446.8,426.2L447.0,424.1L447.2,421.9L447.4,419.8L447.6,417.8L447.8,415.8L448.0,413.7L448.3,411.5L448.6,409.3L448.8,407.1L449.2,405.0L449.5,402.9L450.2,400.1L450.5,397.5L451.2,395.6L452.3,393.0L453.5,390.7L454.9,388.9L457.2,388.5L459.2,390.7L460.5,393.0L461.6,395.6L462.2,397.6L462.4,400.2L462.9,402.9L463.2,405.0L463.4,407.1L463.5,409.3L463.7,411.5L463.8,413.6L463.9,415.8L464.0,417.8L464.1,419.8L464.2,421.9L464.4,424.1L464.5,426.2L464.6,428.3L464.6,430.4L464.7,432.4L464.9,435.2L465.0,438.2L465.2,440.9L465.3,443.7L465.5,446.7L465.7,449.1L465.8,451.7L466.0,453.8L466.1,455.9L466.3,458.2L466.5,460.8L466.7,463.5L466.9,466.4L467.1,468.5L467.2,470.6L467.4,472.7L467.6,474.8L467.7,477.0L467.9,479.2L468.1,481.4L468.2,483.7L468.4,486.0L468.6,488.3L468.7,490.6L468.9,493.0L469.1,495.4L469.3,497.8L469.4,500.3L469.6,502.7L469.8,505.0L469.9,507.8L470.1,510.3L470.3,512.8L470.4,515.4L470.6,518.1L470.8,520.9L471.0,523.7L471.1,526.6L471.3,529.5L471.5,532.5L471.7,535.5L471.8,537.5L471.9,539.5L472.0,541.5L472.1,543.5L472.3,545.6L472.4,547.6L472.5,549.7L472.6,551.7L472.7,553.8L472.9,555.9L473.0,557.9L473.1,560.0L473.2,562.1L473.3,564.2L473.5,566.3L473.6,568.4L473.7,570.5L473.8,572.6L473.9,574.7L474.0,576.8L474.1,578.9L474.3,580.9L474.4,583.0L474.5,585.1L474.6,587.2L474.7,589.3L474.8,591.4L474.9,593.5L475.0,595.6L475.1,597.6L475.2,599.7L475.4,602.7L475.6,605.6L475.7,608.5L475.8,611.5L476.0,614.4L476.1,617.4L476.3,620.4L476.4,623.4L476.5,625.4L476.6,627.4L476.7,629.4L476.8,631.4L476.9,633.4L477.0,635.4L477.1,637.4L477.2,639.4L477.3,641.5L477.3,643.5L477.4,645.5L477.5,647.5L477.6,649.5L477.7,651.5L477.8,653.6L477.9,655.6L478.0,657.6L478.1,659.6L478.1,661.7L478.2,663.7L478.3,665.7L478.4,667.7L478.5,669.7L478.6,671.8L478.7,673.8L478.8,675.8L478.8,677.8L478.9,679.9L479.0,681.9L479.1,683.9L479.2,685.9L479.3,688.0L479.4,690.0L479.5,692.0L479.6,694.0L479.6,696.1L479.7,698.1L479.8,700.1L479.9,702.1L480.0,704.1L480.1,707.1L480.3,710.1L480.4,713.1L480.5,716.1L480.6,718.1L480.7,720.1L480.8,722.1L480.9,724.1L480.9,726.1L481.0,728.1L481.1,730.1L481.2,732.1L481.3,734.1L481.4,736.1L481.4,738.1L481.5,740.1L481.6,742.1L481.7,744.1L481.8,746.1L481.9,748.1L481.9,750.1L482.0,752.1L482.1,754.1L482.2,756.1L482.3,758.1L482.4,760.1L482.4,762.1L482.5,764.1L482.6,766.1L482.7,768.2L482.8,770.2L482.9,772.2L483.0,774.2L483.1,776.2L483.1,778.2L483.2,780.2L483.3,782.2L483.4,784.2L483.5,786.2L483.6,788.2L483.7,790.2L483.8,792.2L483.9,794.2L484.0,796.2L484.1,798.2L484.2,800.2L484.3,802.2L484.4,804.2L484.5,806.2L484.6,808.2L484.7,810.2L484.8,812.2L484.9,814.2L485.0,816.2L485.2,818.2L485.3,820.2L485.4,822.2L485.5,824.2L485.6,826.2L485.7,828.2L485.9,830.2L486.0,832.2L486.1,834.2L486.2,836.2L486.3,838.2L486.5,840.2L486.6,842.2L486.7,844.2L486.8,846.2L487.0,848.2L487.1,850.2L487.2,852.2L487.3,854.2L487.5,856.2L487.6,858.3L487.7,860.3L487.9,862.3L488.0,864.3L488.1,866.3L488.3,868.3L488.4,870.3L488.5,872.3L488.6,874.3L488.8,876.3L488.9,878.3L489.0,880.3L489.2,882.3L489.3,884.3L489.4,886.3L489.6,888.3L489.7,890.3L489.8,892.3L490.0,894.3L490.1,896.3L490.2,898.3L490.3,900.3L490.5,902.3L490.6,904.3L490.7,906.3L490.9,909.3L491.1,912.3L491.2,914.3L491.4,916.3L491.5,918.3L491.6,920.3L491.7,922.4L491.9,924.4L492.0,926.5L492.2,928.5L492.3,930.6L492.4,932.7L492.6,934.7L492.7,936.8L492.8,938.9L493.0,941.0L493.1,943.1L493.3,945.2L493.4,947.2L493.5,949.3L493.7,951.4L493.8,953.5L494.0,955.6L494.1,957.7L494.2,959.8L494.4,961.8L494.5,963.9L494.7,966.0L494.8,968.0L494.9,970.1L495.1,972.2L495.2,974.2L495.3,976.3L495.5,978.3L495.6,980.3L495.7,982.3L495.8,984.3L496.0,986.3L496.1,989.3L496.3,992.3L496.5,995.2L496.7,998.1L496.8,1001.0L497.0,1003.8L497.1,1006.5L497.2,1009.1L497.4,1011.7L497.5,1014.2L497.6,1017.0L497.7,1019.4L497.8,1021.7L497.9,1024.1L498.0,1026.5L498.0,1028.8L498.1,1031.0L498.2,1033.3L498.2,1035.5L498.3,1037.7L498.3,1039.8L498.4,1042.0L498.4,1044.1L498.4,1046.3L498.5,1048.4L498.5,1050.5L498.5,1052.5L498.6,1054.6L498.6,1056.6L498.7,1058.6L498.7,1061.6L498.8,1064.4L498.8,1067.2L498.9,1069.9L499.0,1072.4L499.0,1074.8L499.1,1077.2L499.2,1079.6L499.3,1082.1L499.4,1084.5L499.6,1086.8L499.7,1089.0L499.8,1091.9L500.0,1094.7L500.2,1097.4L500.4,1100.3L500.5,1102.3L500.7,1104.5L500.8,1106.7L501.0,1108.8L501.2,1111.4L501.3,1114.2L501.5,1117.1L501.8,1120.0L501.9,1122.1L502.1,1124.2L502.2,1126.4L502.4,1128.5L502.5,1130.7L502.7,1132.9L502.9,1135.0L503.0,1137.2L503.2,1139.4L503.4,1141.5L503.5,1143.6L503.7,1145.7L503.9,1147.7L504.1,1150.6L504.3,1153.5L504.6,1156.4L504.8,1158.6L505.0,1160.9L505.2,1163.1L505.4,1165.3L505.6,1167.5L505.8,1169.6L506.0,1171.7L506.2,1173.8L506.4,1175.9L506.6,1177.9L506.9,1180.9L507.2,1183.8L507.6,1186.6L507.9,1189.3L508.2,1192.2L508.5,1194.4L508.8,1196.7L509.1,1198.8L509.4,1200.9L509.7,1202.9L510.1,1205.8L510.6,1208.7L511.0,1211.4L511.4,1214.1L511.8,1216.1L512.2,1218.3L512.5,1220.4L512.9,1222.5L513.3,1224.5L513.9,1227.4L514.6,1230.1L515.2,1232.8L515.8,1235.2L516.5,1237.8L517.3,1240.2L518.1,1242.5L519.3,1244.4L522.0,1244.0L523.7,1242.1L524.9,1239.9L525.7,1237.9L526.6,1235.5L527.1,1233.5L527.9,1231.0L528.8,1228.3L529.3,1226.3L529.9,1224.3L530.5,1222.2L531.2,1220.1L531.8,1218.0L532.4,1216.1L533.4,1213.2L534.1,1211.3L534.8,1209.3L535.5,1207.3L536.3,1205.4L537.1,1203.5L538.2,1200.9L539.4,1198.3L540.3,1196.5L541.5,1194.4L542.6,1192.4L543.8,1190.4L544.9,1188.7L546.7,1186.3L548.6,1184.0L550.7,1182.1L552.9,1180.6L554.8,1179.7L556.8,1179.2L559.7,1179.0L561.7,1179.3L563.7,1180.0L565.5,1181.0L567.9,1182.7L569.4,1184.2L570.8,1186.0L572.1,1187.9L573.4,1190.2L574.6,1192.9L575.4,1194.9L576.3,1197.0L577.1,1199.2L577.8,1201.4L578.6,1203.4L579.5,1206.1L580.5,1208.8L581.4,1211.6L582.1,1213.5L582.7,1215.5L583.3,1217.5L584.0,1219.5L584.6,1221.4L585.1,1223.4L585.7,1225.3L586.4,1228.2L586.9,1230.2L587.4,1232.2L587.9,1234.2L588.3,1236.2L588.7,1238.3L589.1,1240.2L589.5,1242.2L590.1,1245.1L590.6,1248.0L591.2,1251.0L591.6,1253.0L592.0,1255.1L592.4,1257.1L592.8,1259.1L593.2,1261.1L593.5,1263.1L593.9,1265.1L594.2,1267.1L594.6,1269.0L594.9,1271.0L595.4,1274.0L595.9,1276.8L596.4,1279.7L596.8,1282.7L597.1,1284.7L597.4,1286.8L597.7,1288.9L598.0,1291.0L598.3,1293.8L598.7,1296.7L598.9,1298.7L599.1,1300.7L599.4,1302.8L599.6,1304.9L599.9,1307.1L600.1,1309.2L600.4,1311.3L600.6,1313.5L600.9,1315.6L601.2,1317.6L601.5,1319.7L601.8,1321.7L602.2,1323.7L602.5,1325.7L602.9,1327.7L603.2,1329.7L603.6,1331.7L604.0,1333.7L604.4,1335.8L604.7,1337.8L605.1,1339.8L605.5,1341.8L605.9,1343.9L606.3,1345.9L606.7,1347.9L607.1,1349.9L607.5,1351.9L607.8,1354.0L608.2,1356.0L608.6,1358.0L609.0,1360.0L609.4,1362.1L609.8,1364.1L610.2,1366.1L610.6,1368.1L611.0,1370.2L611.4,1372.2L611.9,1374.2L612.3,1376.2L612.8,1378.2L613.3,1380.2L613.7,1382.1L614.2,1384.1L614.7,1386.0L615.2,1388.0L615.7,1389.9L616.2,1391.9L616.8,1393.8L617.3,1395.8L617.8,1397.7L618.4,1399.7L618.9,1401.6L619.5,1403.6L620.0,1405.5L620.6,1407.5L621.1,1409.4L621.7,1411.4L622.3,1413.3L622.8,1415.3L623.4,1417.3L624.0,1419.2L624.6,1421.2L625.2,1423.1L625.8,1425.1L626.4,1427.0L627.0,1429.0L627.6,1431.0L628.2,1432.9L628.8,1434.9L629.4,1436.8L630.4,1439.6L631.3,1442.4L632.2,1445.3L633.2,1448.1L634.2,1450.9L635.2,1453.8L636.2,1456.6L636.8,1458.5L637.9,1461.2L638.9,1464.0L639.6,1465.9L640.4,1467.8L641.2,1469.8L642.0,1471.9L642.8,1473.9L643.6,1476.0L644.5,1478.0L645.3,1480.1L646.2,1482.1L647.0,1484.0L647.9,1485.9L649.1,1488.6L650.3,1491.1L651.4,1493.5L652.3,1495.3L653.4,1497.3L654.4,1499.3L655.4,1501.1L656.9,1503.5L658.5,1505.7L660.2,1507.8L662.3,1510.0L664.0,1511.5L665.8,1512.9L667.7,1514.1L669.6,1515.0L672.1,1515.7L674.5,1515.9L676.9,1515.5L679.8,1514.6L681.8,1513.6L683.8,1512.5L685.8,1511.2L687.6,1510.0L689.4,1508.7L691.1,1507.4L692.8,1506.1L694.4,1504.8L696.0,1503.4L697.6,1502.1L699.2,1500.6L700.7,1499.2L702.2,1497.8L703.7,1496.4L705.1,1494.9L706.6,1493.3L708.0,1491.7L709.5,1490.0L710.9,1488.2L712.6,1486.1L714.2,1483.8L715.8,1481.4L716.9,1479.7L718.0,1478.0L719.1,1476.2L720.2,1474.4L721.3,1472.5L722.3,1470.7L723.2,1468.9L724.1,1467.1L725.1,1465.3L725.9,1463.5L726.8,1461.6L727.7,1459.7L728.5,1457.8L729.3,1455.9L730.1,1453.9L730.9,1452.0L731.6,1450.1L732.4,1448.1L733.1,1446.2L733.9,1444.3L734.6,1442.4L735.3,1440.5L736.0,1438.6L736.7,1436.8L737.3,1434.9L738.0,1433.0L739.0,1430.1L739.9,1427.3L740.8,1424.5L741.4,1422.5L742.0,1420.6L742.6,1418.6L743.2,1416.5L743.8,1414.5L744.3,1412.5L744.9,1410.5L745.4,1408.5L746.0,1406.5L746.5,1404.5L747.0,1402.4L747.6,1400.4L748.1,1398.5L748.6,1396.5L749.1,1394.6L749.6,1392.6L750.1,1390.7L750.6,1388.7L751.1,1386.8L751.6,1384.8L752.1,1382.9L752.6,1380.9L753.1,1379.0L753.6,1377.0L754.0,1375.0L754.5,1373.0L755.0,1371.0L755.4,1369.0L755.9,1367.0L756.3,1365.0L756.8,1363.0L757.2,1361.0L757.7,1359.0L758.2,1357.1L758.6,1355.1L759.1,1353.2L759.6,1351.2L760.3,1348.4L761.1,1345.6L761.8,1342.8L762.6,1339.9L763.1,1337.9L763.6,1335.8L764.2,1333.7L764.9,1331.0L765.6,1328.1L766.1,1326.1L766.7,1324.1L767.2,1322.0L767.7,1319.8L768.3,1317.7L768.8,1315.6L769.3,1313.5L769.8,1311.4L770.3,1309.4L770.8,1307.4L771.5,1304.6L771.9,1302.6L772.4,1300.5L772.9,1298.5L773.3,1296.4L773.7,1294.5L774.4,1291.6L775.0,1288.8L775.6,1285.9L776.3,1283.0L776.8,1281.1L777.2,1279.1L777.7,1277.1L778.2,1275.1L778.7,1273.1L779.2,1271.2L779.7,1269.2L780.2,1267.2L780.7,1265.2L781.2,1263.3L781.7,1261.3L782.2,1259.3L782.7,1257.3L783.2,1255.4L783.7,1253.4L784.2,1251.4L784.7,1249.4L785.2,1247.4L785.7,1245.4L786.2,1243.4L786.7,1241.5L787.2,1239.5L787.6,1237.5L788.1,1235.5L788.6,1233.6L789.1,1231.6L789.6,1229.6L790.1,1227.6L790.6,1225.7L791.1,1223.7L791.6,1221.7L792.1,1219.8L792.6,1217.8L793.1,1215.8L793.6,1213.8L794.1,1211.9L794.6,1209.9L795.1,1207.9L795.7,1205.9L796.2,1204.0L796.8,1202.0L797.4,1200.0L798.0,1198.1L798.6,1196.1L799.2,1194.2L799.8,1192.2L800.5,1190.3L801.1,1188.4L801.8,1186.4L802.6,1184.5L803.3,1182.6L804.0,1180.7L805.1,1177.9L806.2,1175.2L807.4,1172.5L808.3,1170.6L809.2,1168.7L810.0,1166.8L810.9,1165.0L812.2,1162.4L813.6,1159.8L815.0,1157.2L816.0,1155.4L817.1,1153.4L818.2,1151.5L819.3,1149.6L820.5,1147.9L822.2,1145.6L824.0,1143.6L825.7,1141.8L827.6,1140.5L829.5,1139.5L832.1,1138.8L834.8,1139.0L836.7,1139.6L838.5,1140.7L840.5,1142.4L842.1,1144.7L843.3,1146.5L844.4,1148.5L845.5,1150.6L846.4,1152.8L847.3,1154.8L848.2,1156.7L849.0,1158.5L850.2,1161.2L851.3,1163.9L852.2,1166.0L852.9,1167.9L853.8,1170.2L854.8,1172.8L855.8,1175.5L856.5,1177.5L857.2,1179.6L857.9,1181.7L858.7,1183.9L859.4,1186.0L860.2,1188.2L860.9,1190.3L861.6,1192.4L862.3,1194.4L863.0,1196.3L864.0,1199.1L865.0,1201.8L866.0,1204.6L867.1,1207.4L868.1,1210.3L868.8,1212.1L869.5,1214.0L870.2,1215.9L871.3,1218.7L872.1,1220.5L872.8,1222.4L873.6,1224.3L874.4,1226.2L875.2,1228.1L876.0,1230.1L876.8,1232.0L877.6,1234.0L878.5,1235.9L879.4,1237.9L880.2,1239.8L881.1,1241.7L882.0,1243.5L882.8,1245.4L884.1,1248.0L885.5,1250.6L886.4,1252.4L887.4,1254.3L888.4,1256.2L889.5,1258.2L890.6,1260.1L891.7,1262.0L892.8,1263.7L893.9,1265.4L895.5,1267.7L897.1,1269.8L898.8,1271.7L901.1,1273.9L903.0,1275.4L904.9,1276.7L906.9,1277.8L909.6,1278.8L912.1,1279.3L914.5,1279.2L917.2,1278.6L919.1,1277.9L921.1,1276.9L923.1,1275.7L924.8,1274.3L926.4,1272.9L928.2,1270.9L929.7,1268.8L931.1,1266.5L932.5,1263.8L933.3,1261.9L934.2,1259.8L935.0,1257.7L935.8,1255.6L936.6,1253.5L937.4,1251.5L938.4,1248.8L939.4,1246.0L940.4,1243.2L941.1,1241.3L941.8,1239.3L942.5,1237.3L943.2,1235.3L943.9,1233.3L944.6,1231.3L945.3,1229.3L945.9,1227.3L946.6,1225.3L947.2,1223.3L947.8,1221.4L948.4,1219.5L949.1,1217.5L949.7,1215.6L950.3,1213.7L950.9,1211.7L951.5,1209.8L952.0,1207.8L952.6,1205.9L953.2,1204.0L953.8,1202.0L954.3,1200.0L954.9,1198.1L955.4,1196.1L955.9,1194.2L956.4,1192.3L957.0,1190.3L957.5,1188.4L957.9,1186.4L958.4,1184.5L958.9,1182.6L959.4,1180.6L959.9,1178.7L960.3,1176.7L960.8,1174.8L961.3,1172.8L961.8,1170.9L962.2,1169.0L962.7,1167.0L963.2,1165.1L963.7,1163.1L964.2,1161.2L964.7,1159.2L965.1,1157.3L965.6,1155.3L966.1,1153.4L966.6,1151.4L967.1,1149.5L967.6,1147.6L968.1,1145.6L968.6,1143.7L969.1,1141.7L969.5,1139.8L970.0,1137.8L970.5,1135.9L971.0,1133.9L971.4,1132.0L971.9,1130.0L972.4,1128.1L972.9,1126.1L973.3,1124.2L973.8,1122.2L974.3,1120.3L974.8,1118.3L975.3,1116.4L975.9,1114.4L976.4,1112.5L977.0,1110.6L977.6,1108.6L978.2,1106.6L978.8,1104.7L979.4,1102.7L980.1,1100.8L980.7,1098.9L981.4,1096.9L982.1,1095.0L982.8,1093.0L983.5,1091.1L984.2,1089.1L984.9,1087.2L985.6,1085.2L986.4,1083.2L987.1,1081.3L988.1,1078.5L989.2,1075.7L990.2,1073.0L991.3,1070.2L992.3,1067.5L993.4,1064.7L994.2,1062.7L995.0,1060.8L995.8,1058.8L996.7,1056.8L997.5,1054.7L998.4,1052.7L999.5,1050.1L1000.7,1047.6L1001.8,1045.0L1003.1,1042.3L1003.9,1040.5L1004.8,1038.6L1005.7,1036.8L1006.5,1034.9L1007.5,1033.0L1008.4,1031.1L1009.3,1029.2L1010.2,1027.3L1011.1,1025.4L1012.0,1023.5L1012.8,1021.6L1013.7,1019.7L1014.6,1017.9L1015.4,1016.0L1016.3,1014.2L1017.1,1012.4L1017.9,1010.5L1018.7,1008.7L1019.6,1006.8L1020.4,1004.9L1021.2,1003.1L1022.0,1001.2L1022.8,999.4L1023.6,997.5L1024.4,995.7L1025.2,993.8L1026.0,992.0L1026.7,990.1L1027.5,988.2L1028.3,986.4L1029.1,984.5L1029.8,982.7L1030.6,980.8L1031.4,979.0L1032.2,977.1L1032.9,975.3L1033.7,973.4L1034.5,971.5L1035.2,969.7L1036.0,967.8L1036.8,966.0L1037.5,964.1L1038.3,962.3L1039.1,960.4L1039.8,958.5L1040.6,956.7L1041.3,954.8L1042.1,952.9L1042.8,951.1L1043.6,949.2L1044.7,946.4L1045.4,944.6L1046.5,941.8L1047.5,939.0L1048.6,936.2L1049.6,933.4L1050.3,931.5L1051.0,929.6L1051.6,927.7L1052.3,925.8L1052.9,923.9L1053.6,921.9L1054.2,920.0L1054.8,918.1L1055.5,916.2L1056.4,913.4L1057.3,910.6L1058.2,907.7L1059.1,904.9L1059.9,902.0L1060.8,899.2L1061.7,896.3L1062.3,894.4L1062.9,892.4L1063.4,890.5L1064.0,888.5L1064.6,886.5L1065.2,884.6L1065.7,882.6L1066.3,880.7L1066.9,878.7L1067.4,876.8L1067.9,874.8L1068.5,872.8L1069.0,870.9L1069.5,868.9L1070.1,867.0L1070.6,865.0L1071.1,863.1L1071.6,861.1L1072.0,859.2L1072.5,857.2L1073.0,855.2L1073.5,853.2L1073.9,851.2L1074.4,849.2L1074.8,847.2L1075.3,845.2L1075.7,843.2L1076.1,841.2L1076.5,839.2L1076.9,837.2L1077.3,835.2L1077.7,833.2L1078.1,831.2L1078.5,829.2L1078.9,827.2L1079.2,825.2L1079.6,823.2L1079.9,821.2L1080.2,819.2L1080.6,817.2L1080.9,815.2L1081.2,813.2L1081.5,811.2L1081.7,809.2L1082.0,807.2L1082.3,805.2L1082.5,803.2L1082.8,801.2L1083.0,799.2L1083.2,797.2L1083.4,795.2L1083.7,793.2L1083.9,791.1L1084.1,789.1L1084.4,787.1L1084.6,785.1L1084.8,783.1L1085.1,781.1L1085.3,779.1L1085.5,777.1L1085.8,775.1L1086.0,773.1L1086.3,771.1L1086.5,769.1L1086.8,767.1L1087.1,765.1L1087.3,763.1L1087.6,761.1L1087.8,759.0L1088.1,757.0L1088.3,755.0L1088.6,753.0L1088.9,751.0L1089.1,749.0L1089.3,747.0L1089.6,745.0L1089.8,742.9L1090.1,740.9L1090.3,738.9L1090.5,736.9L1090.8,734.0L1091.1,731.1L1091.4,728.3L1091.7,725.5L1092.0,722.7L1092.3,719.9L1092.6,717.0L1092.9,714.0L1093.1,712.0L1093.3,709.9L1093.5,707.7L1093.7,705.4L1093.9,703.1L1094.1,700.8L1094.3,698.8L1094.6,696.3L1094.8,693.7L1095.0,691.1L1095.3,688.4L1095.6,685.5L1095.8,682.6L1096.0,680.6L1096.2,678.6L1096.4,676.5L1096.6,674.5L1096.8,672.4L1097.0,670.3L1097.2,668.3L1097.4,666.2L1097.6,664.1L1097.7,662.0L1097.9,659.9L1098.1,657.7L1098.3,655.6L1098.5,653.5L1098.7,651.4L1098.9,649.3L1099.1,647.2L1099.3,645.1L1099.4,643.1L1099.6,641.0L1099.8,638.9L1100.0,636.9L1100.2,634.9L1100.4,632.0L1100.7,629.0L1100.9,627.0L1101.0,624.9L1101.2,622.9L1101.4,620.9L1101.6,618.8L1101.7,616.8L1101.9,614.8L1102.1,612.8L1102.2,610.8L1102.4,608.8L1102.6,606.8L1102.7,604.8L1102.9,602.8L1103.1,599.8L1103.4,596.8L1103.6,593.8L1103.9,590.9L1104.1,587.9L1104.4,584.9L1104.6,582.0L1104.8,579.0L1105.1,576.0L1105.3,573.0L1105.6,570.0L1105.7,568.0L1105.9,566.0L1106.1,564.0L1106.2,562.0L1106.4,560.0L1106.6,558.0L1106.7,556.0L1106.9,554.0L1107.1,552.0L1107.2,550.0L1107.4,547.9L1107.6,545.9L1107.7,543.9L1107.9,541.9L1108.0,539.9L1108.2,537.9L1108.4,535.8L1108.5,533.8L1108.7,531.8L1108.9,529.8L1109.0,527.8L1109.2,525.8L1109.4,523.8L1109.5,521.8L1109.7,519.8L1109.9,517.8L1110.1,515.8L1110.3,512.8L1110.6,509.8L1110.9,506.9L1111.1,504.0L1111.4,501.1L1111.6,499.1L1111.8,497.0L1112.0,495.0L1112.2,492.9L1112.5,490.8L1112.7,488.7L1112.9,486.7L1113.1,484.6L1113.4,482.6L1113.6,480.5L1113.9,478.5L1114.1,476.4L1114.3,474.4L1114.6,472.3L1114.8,470.3L1115.0,468.2L1115.3,466.2L1115.5,464.2L1115.7,462.2L1116.0,460.2L1116.2,458.2L1116.5,455.2L1116.9,452.3L1117.2,449.5L1117.4,446.7L1117.7,443.9L1118.0,441.2L1118.1,439.1L1118.3,436.9L1118.5,434.7L1118.7,432.5L1118.8,430.3L1119.0,428.2L1119.1,426.1L1119.3,424.0L1119.4,421.9L1119.5,419.9L1119.7,417.8L1119.8,415.8L1119.9,413.8L1120.1,411.8L1120.2,408.8L1120.4,405.9L1120.6,403.0L1120.8,400.1L1121.1,397.2L1121.3,394.2L1121.5,392.2L1121.7,390.1L1121.9,388.0L1122.1,385.9L1122.3,383.9L1122.5,381.9L1122.8,378.9L1123.1,376.0L1123.4,373.1L1123.7,370.1L1124.0,367.2L1124.3,364.3L1124.6,361.3L1124.9,358.3L1125.1,356.3L1125.3,354.3L1125.5,352.3L1125.7,350.3L1125.9,348.3L1126.1,346.3L1126.3,344.3L1126.5,342.3L1126.7,340.3L1126.9,338.4L1127.1,336.4L1127.3,334.4L1127.5,332.4L1127.7,330.4L1127.9,328.4L1128.1,326.4L1128.3,324.4L1128.5,322.4L1128.7,320.4L1128.9,318.4L1129.1,316.4L1129.3,314.4L1129.5,312.4L1129.7,310.4L1129.9,308.4L1130.1,306.4L1130.3,304.4L1130.4,302.4L1130.6,300.5L1130.8,298.5L1131.0,296.5L1131.2,294.5L1131.5,292.5L1131.7,290.5L1131.9,288.5L1132.1,286.5L1132.3,284.5L1132.5,282.5L1132.8,280.5L1133.0,278.5L1133.2,276.5L1133.5,274.5L1133.7,272.5L1134.0,270.5L1134.2,268.5L1134.5,266.5L1134.7,264.6L1135.0,262.6L1135.2,260.6L1135.5,258.6L1135.8,256.6L1136.0,254.6L1136.3,252.6L1136.5,250.6L1136.8,248.6L1137.0,246.6L1137.3,244.6L1137.5,242.6L1137.8,240.6L1138.0,238.6L1138.3,236.5L1138.5,234.5L1138.8,232.5L1139.1,230.4L1139.3,228.4L1139.6,226.4L1139.8,224.4L1140.1,222.4L1140.4,219.4L1140.8,216.6L1141.1,213.8L1141.4,211.0L1141.7,208.8L1141.9,206.6L1142.2,204.3L1142.4,202.0L1142.6,199.7L1142.9,197.3L1143.1,195.1L1143.4,192.9L1143.6,190.8L1143.8,188.8L1144.2,185.9L1144.6,183.3L1145.1,180.9L1145.7,177.8L1146.2,175.7L1146.6,173.8L1147.3,171.0L1147.8,169.0L1148.4,166.1L1149.0,163.3L1149.5,160.3L1149.9,158.3L1150.2,156.3L1150.6,154.2L1150.9,152.1L1151.3,150.1L1151.6,148.1L1152.0,146.0L1152.4,144.0L1152.8,141.9L1153.2,139.9L1153.7,138.0L1154.5,135.2L1155.1,133.0L1155.8,130.8L1156.7,128.7L1157.4,126.7L1158.6,124.1L1160.3,121.7L1162.2,120.0L1164.1,119.0L1166.4,118.7L1168.8,119.6L1170.6,121.0L1172.1,122.6L1173.3,124.8L1174.3,127.7L1175.1,129.7L1175.8,131.9L1176.5,134.1L1177.0,136.1L1177.6,138.9L1178.0,140.9L1178.4,142.9L1178.7,145.0L1179.1,147.0L1179.4,149.1L1179.8,151.1L1180.2,153.1L1180.5,155.2L1180.9,157.3L1181.3,159.3L1181.7,161.3L1182.1,163.3L1182.6,166.2L1183.2,169.1L1183.8,172.0L1184.3,174.8L1184.7,176.8L1185.1,178.9L1185.6,181.6L1186.0,184.0L1186.5,186.6L1187.0,189.4L1187.4,191.4L1187.8,193.5L1188.1,195.6L1188.5,197.8L1188.9,200.0L1189.3,202.3L1189.7,204.5L1190.1,206.7L1190.5,208.8L1190.8,210.9L1191.3,213.7L1191.8,216.5L1192.3,219.4L1192.8,222.4L1193.2,224.4L1193.5,226.4L1193.8,228.4L1194.2,230.4L1194.5,232.5L1194.8,234.5L1195.2,236.5L1195.5,238.6L1195.8,240.6L1196.1,242.6L1196.4,244.6L1196.6,246.6L1196.9,248.6L1197.1,250.6L1197.5,253.6L1197.8,256.6L1198.1,258.6L1198.3,260.6L1198.5,262.6L1198.7,264.5L1198.9,266.5L1199.1,268.5L1199.3,270.5L1199.4,272.5L1199.6,274.5L1199.8,276.5L1200.0,278.5L1200.1,280.5L1200.3,282.5L1200.5,284.5L1200.7,286.5L1200.8,288.5L1201.0,290.5L1201.2,293.5L1201.4,296.5L1201.6,299.5L1201.9,302.5L1202.1,305.4L1202.3,308.4L1202.5,311.4L1202.7,314.4L1203.0,317.4L1203.2,319.4L1203.3,321.4L1203.5,323.4L1203.7,325.4L1203.9,327.4L1204.1,329.4L1204.3,331.4L1204.5,333.4L1204.7,335.4L1204.9,337.4L1205.1,339.4L1205.3,341.3L1205.5,343.3L1205.7,345.3L1205.9,347.3L1206.2,350.3L1206.5,353.3L1206.8,356.3L1207.0,358.3L1207.2,360.3L1207.3,362.4L1207.5,364.4L1207.7,366.4L1207.8,368.4L1208.0,370.5L1208.1,372.5L1208.3,374.5L1208.4,376.5L1208.6,378.5L1208.7,380.5L1208.9,382.6L1209.0,384.6L1209.1,386.8L1209.3,388.9L1209.4,391.1L1209.6,393.3L1209.7,395.4L1209.9,398.3L1210.1,401.1L1210.2,403.8L1210.4,406.5L1210.5,409.3L1210.7,412.1L1210.8,414.9L1211.0,417.8L1211.1,420.7L1211.2,422.7L1211.4,424.8L1211.5,427.0L1211.6,429.3L1211.7,431.7L1211.8,434.3L1211.9,436.9L1212.1,439.5L1212.2,442.2L1212.3,444.4L1212.4,446.7L1212.5,449.0L1212.6,451.4L1212.7,454.0L1212.8,456.7L1213.0,459.5L1213.1,462.3L1213.2,465.2L1213.3,468.1L1213.5,471.1L1213.5,473.1L1213.6,475.1L1213.7,477.1L1213.8,479.2L1213.9,481.2L1214.0,483.3L1214.0,485.4L1214.1,487.5L1214.2,489.6L1214.3,491.7L1214.4,493.8L1214.5,495.9L1214.5,498.1L1214.6,500.2L1214.7,502.4L1214.8,504.5L1214.9,506.7L1215.0,508.9L1215.1,511.0L1215.2,513.2L1215.2,515.4L1215.3,517.6L1215.4,519.7L1215.5,521.9L1215.6,524.1L1215.7,526.2L1215.8,528.4L1215.9,530.6L1216.0,532.7L1216.1,534.9L1216.2,537.0L1216.2,539.2L1216.3,541.3L1216.4,543.5L1216.5,545.6L1216.6,547.7L1216.7,549.8L1216.8,551.9L1216.9,554.0L1217.0,556.9L1217.2,559.8L1217.3,562.7L1217.5,565.6L1217.6,568.5L1217.7,571.5L1217.9,574.5L1218.0,577.4L1218.2,580.4L1218.3,583.4L1218.5,586.4L1218.6,589.4L1218.8,592.4L1218.9,594.4L1219.0,596.4L1219.1,598.4L1219.2,600.4L1219.3,602.4L1219.4,604.4L1219.5,606.4L1219.6,608.4L1219.7,610.4L1219.8,612.4L1219.9,614.4L1220.0,616.4L1220.1,618.4L1220.2,620.4L1220.3,622.5L1220.4,624.5L1220.5,626.5L1220.6,628.5L1220.7,630.5L1220.8,632.5L1220.9,634.5L1221.0,636.5L1221.1,638.6L1221.2,640.6L1221.3,642.6L1221.4,644.6L1221.5,646.6L1221.6,648.6L1221.7,650.6L1221.8,652.6L1221.9,654.7L1222.0,656.7L1222.1,658.7L1222.2,660.7L1222.3,662.7L1222.4,664.7L1222.5,666.7L1222.6,668.7L1222.7,670.7L1222.8,672.7L1223.0,675.7L1223.1,678.7L1223.3,680.7L1223.4,682.7L1223.5,684.7L1223.6,686.8L1223.7,688.8L1223.8,690.8L1223.9,692.8L1224.0,694.8L1224.1,696.8L1224.2,698.8L1224.3,700.9L1224.4,702.9L1224.5,704.9L1224.6,706.9L1224.7,708.9L1224.8,710.9L1224.9,712.9L1225.0,714.9L1225.1,717.0L1225.2,719.0L1225.3,721.0L1225.4,723.0L1225.5,725.0L1225.6,727.0L1225.7,729.0L1225.8,731.0L1225.9,733.1L1226.0,735.1L1226.1,737.1L1226.2,739.1L1226.3,741.1L1226.4,743.1L1226.5,745.1L1226.6,747.1L1226.7,749.2L1226.8,751.2L1226.9,753.2L1227.0,755.2L1227.1,757.2L1227.2,759.2L1227.3,761.2L1227.4,763.2L1227.5,765.3L1227.6,767.3L1227.7,769.3L1227.8,771.3L1227.9,773.3L1228.0,775.3L1228.1,777.3L1228.2,779.4L1228.3,781.4L1228.4,783.4L1228.5,785.4L1228.6,787.4L1228.7,789.4L1228.8,791.4L1228.9,793.4L1229.0,795.5L1229.1,797.5L1229.2,799.5L1229.3,801.5L1229.4,804.5L1229.5,806.5L1229.6,808.5L1229.7,810.5L1229.8,812.6L1229.9,814.6L1230.0,816.6L1230.1,818.7L1230.2,820.8L1230.3,822.8L1230.3,824.9L1230.4,827.0L1230.5,829.0L1230.6,831.1L1230.7,833.2L1230.8,835.3L1230.9,837.4L1231.0,839.4L1231.0,841.5L1231.1,843.6L1231.2,845.7L1231.3,847.8L1231.4,849.9L1231.5,851.9L1231.6,854.0L1231.6,856.1L1231.7,858.2L1231.8,860.3L1231.9,862.3L1232.0,864.4L1232.1,866.5L1232.2,868.5L1232.3,870.6L1232.3,872.6L1232.4,874.7L1232.5,876.7L1232.6,878.8L1232.7,880.8L1232.8,882.8L1232.9,884.8L1233.0,886.8L1233.1,889.8L1233.2,892.8L1233.4,895.7L1233.5,898.7L1233.6,901.6L1233.8,904.5L1233.9,907.3L1234.1,910.1L1234.2,912.9L1234.4,915.6L1234.5,918.2L1234.6,920.7L1234.8,923.3L1235.0,926.1L1235.1,928.4L1235.2,930.8L1235.4,933.1L1235.5,935.3L1235.7,937.5L1235.9,939.6L1236.0,941.7L1236.1,943.7L1236.4,946.7L1236.6,949.7L1236.8,952.6L1237.1,955.5L1237.3,958.4L1237.5,961.2L1237.8,964.1L1238.0,966.9L1238.2,969.8L1238.4,972.6L1238.7,975.5L1238.9,978.4L1239.1,981.3L1239.3,984.2L1239.5,986.3L1239.6,988.3L1239.8,990.4L1239.9,992.5L1240.1,994.7L1240.2,996.9L1240.3,999.1L1240.5,1001.2L1240.6,1003.9L1240.8,1006.6L1240.9,1009.3L1241.0,1012.1L1241.2,1015.0L1241.3,1017.9L1241.4,1020.8L1241.6,1023.7L1241.7,1026.7L1241.8,1029.7L1241.9,1032.7L1242.0,1034.7L1242.1,1036.7L1242.2,1038.7L1242.2,1040.7L1242.3,1042.8L1242.4,1044.8L1242.5,1046.9L1242.5,1048.9L1242.6,1050.9L1242.7,1053.0L1242.8,1055.0L1242.9,1057.1L1242.9,1059.2L1243.0,1061.2L1243.1,1063.3L1243.2,1065.3L1243.2,1067.4L1243.3,1069.5L1243.4,1071.5L1243.5,1073.6L1243.6,1075.6L1243.7,1077.7L1243.8,1079.7L1243.9,1081.8L1243.9,1083.8L1244.0,1085.9L1244.1,1087.9L1244.2,1090.0L1244.3,1092.0L1244.5,1094.1L1244.6,1096.1L1244.7,1098.1L1244.8,1100.1L1244.9,1102.1L1245.1,1105.1L1245.2,1107.1L1245.3,1109.1L1245.4,1111.1L1245.6,1113.1L1245.7,1115.2L1245.8,1117.2L1246.0,1119.2L1246.1,1121.3L1246.2,1123.3L1246.4,1125.4L1246.5,1127.4L1246.7,1129.4L1246.8,1131.5L1247.0,1133.5L1247.1,1135.6L1247.3,1137.7L1247.4,1139.7L1247.6,1141.8L1247.7,1143.8L1247.9,1145.9L1248.0,1147.9L1248.2,1150.0L1248.3,1152.0L1248.5,1154.0L1248.6,1156.1L1248.8,1158.1L1249.0,1160.2L1249.1,1162.2L1249.3,1164.2L1249.4,1166.3L1249.6,1168.3L1249.8,1170.3L1249.9,1172.3L1250.1,1174.3L1250.3,1176.3L1250.4,1178.3L1250.7,1181.3L1250.9,1184.3L1251.1,1187.2L1251.4,1190.2L1251.6,1193.1L1251.9,1196.0L1252.1,1198.8L1252.3,1201.5L1252.6,1204.3L1252.8,1207.0L1253.1,1210.1L1253.2,1212.3L1253.4,1214.5L1253.6,1216.7L1253.8,1218.9L1254.0,1221.0L1254.2,1223.1L1254.4,1225.3L1254.6,1227.4L1254.7,1229.5L1254.9,1231.6L1255.1,1233.6L1255.3,1235.7L1255.5,1237.8L1255.7,1239.8L1255.8,1241.9L1256.0,1243.9L1256.2,1246.0L1256.4,1248.0L1256.6,1250.0L1256.8,1252.0L1257.0,1254.0L1257.2,1256.0L1257.4,1259.0L1257.7,1262.0L1258.0,1264.9L1258.3,1267.8L1258.5,1270.6L1258.8,1273.5L1259.1,1276.2L1259.4,1278.9L1259.6,1281.5L1259.9,1284.1L1260.2,1287.0L1260.4,1289.3L1260.7,1291.5L1260.9,1293.8L1261.1,1296.1L1261.4,1298.4L1261.6,1300.6L1261.9,1302.8L1262.1,1305.0L1262.3,1307.1L1262.6,1309.2L1262.8,1311.4L1263.1,1313.4L1263.3,1315.5L1263.5,1317.6L1263.8,1319.6L1264.0,1321.6L1264.3,1324.5L1264.6,1327.3L1264.9,1329.9L1265.2,1332.4L1265.5,1334.8L1265.8,1337.2L1266.0,1339.3L1266.2,1341.7L1266.5,1344.0L1266.7,1346.2L1266.9,1348.3L1267.2,1351.2L1267.6,1354.0L1267.9,1356.8L1268.3,1359.8L1268.5,1361.9L1268.9,1364.8L1269.3,1367.8L1269.6,1369.8L1269.9,1371.9L1270.3,1374.0L1270.6,1376.1L1270.9,1378.2L1271.3,1380.3L1271.7,1382.4L1272.0,1384.4L1272.6,1387.2L1273.2,1390.0L1273.8,1392.9L1274.3,1395.1L1274.9,1397.3L1275.4,1399.5L1276.0,1401.6L1276.6,1403.6L1277.1,1405.5L1278.0,1408.4L1279.0,1411.1L1280.0,1414.0L1280.7,1416.0L1281.5,1417.9L1282.3,1419.8L1283.1,1421.7L1284.4,1424.4L1285.7,1427.0L1286.8,1428.7L1287.8,1430.4L1288.9,1432.1L1290.1,1433.8L1291.4,1435.5L1292.6,1437.1L1294.0,1438.8L1295.4,1440.4L1297.3,1442.6L1299.3,1444.8L1300.7,1446.3L1302.2,1447.7L1303.7,1449.2L1305.3,1450.7L1306.9,1452.1L1308.5,1453.6L1310.2,1454.9L1312.5,1456.8L1314.8,1458.6L1317.3,1460.3L1318.9,1461.4L1320.7,1462.6L1322.4,1463.7L1324.3,1464.8L1326.2,1465.9L1328.1,1467.0L1330.1,1468.0L1332.6,1469.3L1335.2,1470.5L1338.0,1471.7L1339.9,1472.5L1341.8,1473.3L1343.8,1474.0L1345.8,1474.8L1347.9,1475.5L1349.9,1476.2L1351.9,1476.9L1353.9,1477.5L1355.9,1478.1L1357.9,1478.7L1359.9,1479.2L1361.9,1479.7L1363.8,1480.2L1365.8,1480.7L1367.8,1481.1L1369.8,1481.5L1371.8,1481.9L1373.8,1482.3L1375.8,1482.6L1377.8,1482.9L1379.8,1483.3L1381.8,1483.5L1383.8,1483.8L1385.8,1484.1L1387.8,1484.3L1389.8,1484.5L1391.8,1484.7L1393.9,1484.9L1396.0,1485.0L1398.0,1485.2L1400.1,1485.3L1402.2,1485.4L1404.2,1485.5L1406.3,1485.6L1408.4,1485.6L1410.4,1485.7L1412.5,1485.8L1414.5,1485.9L1416.6,1486.0L1418.7,1486.1L1420.7,1486.2L1422.8,1486.3L1424.9,1486.3L1426.9,1486.4L1429.0,1486.5L1431.1,1486.6L1433.1,1486.8L1435.2,1486.9L1437.3,1487.0L1439.3,1487.2L1441.4,1487.4L1443.5,1487.6L1445.5,1487.9L1447.6,1488.1L1449.6,1488.5L1452.6,1489.0L1455.5,1489.6L1458.3,1490.2L1461.2,1490.9L1463.2,1491.5L1465.1,1492.0L1467.1,1492.6L1469.0,1493.1L1470.9,1493.7L1472.9,1494.4L1474.8,1495.0L1476.7,1495.7L1478.6,1496.3L1480.5,1497.0L1482.4,1497.8L1484.3,1498.5L1486.1,1499.3L1488.0,1500.0L1489.9,1500.8L1491.8,1501.7L1493.6,1502.5L1495.5,1503.4L1497.4,1504.2L1499.3,1505.1L1501.1,1506.0L1503.0,1506.9L1504.9,1507.8L1506.7,1508.7L1508.6,1509.6L1510.4,1510.4L1512.2,1511.3L1514.1,1512.2L1515.9,1513.1L1517.8,1514.1L1519.7,1515.0L1521.5,1515.9L1523.4,1516.9L1525.3,1517.8L1527.2,1518.8L1529.0,1519.7L1530.8,1520.6L1533.5,1522.0L1536.1,1523.3L1538.6,1524.5L1540.4,1525.4L1542.3,1526.4L1544.2,1527.3L1546.1,1528.3L1547.9,1529.2L1550.6,1530.5L1553.2,1531.8L1555.8,1533.1L1558.4,1534.3L1561.0,1535.6L1562.9,1536.5L1564.7,1537.4L1566.5,1538.3L1568.4,1539.2L1570.2,1540.1L1572.0,1540.9L1573.9,1541.8L1575.7,1542.7L1578.4,1543.9L1581.1,1545.2L1582.9,1546.0L1584.8,1546.9L1586.7,1547.8L1588.6,1548.6L1590.5,1549.5L1592.5,1550.4L1594.4,1551.2L1596.3,1552.1L1598.3,1552.9L1600.2,1553.6L1602.1,1554.4L1604.0,1555.1L1606.0,1555.8L1607.9,1556.4L1609.9,1557.0L1611.9,1557.6L1613.9,1558.2L1615.9,1558.7L1617.8,1559.2L1619.8,1559.7L1621.8,1560.1L1623.8,1560.5L1625.9,1560.9L1627.9,1561.3L1629.8,1561.6L1631.8,1561.9L1633.8,1562.2L1635.8,1562.4L1637.8,1562.6L1640.8,1562.9L1643.8,1563.2L1646.7,1563.4L1649.7,1563.5L1651.8,1563.6L1653.9,1563.7L1656.0,1563.7L1658.1,1563.8L1660.2,1563.8L1662.3,1563.8L1664.4,1563.8L1666.5,1563.7L1668.6,1563.7L1670.7,1563.6L1672.8,1563.5L1675.8,1563.3L1678.7,1563.1L1681.7,1562.8L1683.7,1562.6L1685.7,1562.4L1687.7,1562.1L1689.7,1561.9L1691.7,1561.6L1693.7,1561.3L1695.7,1561.0L1697.7,1560.7L1699.7,1560.3L1701.7,1559.9L1703.7,1559.6L1705.7,1559.1L1707.7,1558.7L1709.7,1558.3L1711.6,1557.9L1713.6,1557.4L1715.6,1557.0L1717.6,1556.5L1719.7,1556.0L1721.8,1555.5L1724.0,1554.9L1726.1,1554.4L1728.2,1553.9L1730.2,1553.4L1732.2,1552.9L1735.0,1552.2L1737.6,1551.6L1739.8,1551.1L1741.9,1550.6L1744.8,1550.0L1746.8,1549.5L1748.9,1549.0L1750.8,1548.5L1753.4,1547.7L1756.1,1546.8L1759.0,1545.9L1761.0,1545.2L1763.0,1544.4L1765.1,1543.7L1767.2,1542.9L1769.2,1542.2L1771.1,1541.5L1773.0,1540.9L1775.9,1539.9L1778.7,1538.9L1781.5,1537.9L1784.4,1537.0L1787.2,1536.1L1790.0,1535.2L1792.9,1534.4L1794.8,1533.9L1796.9,1533.3L1798.9,1532.8L1801.0,1532.3L1803.1,1531.9L1805.2,1531.4L1807.2,1531.0L1809.2,1530.7L1812.1,1530.3L1815.0,1529.9L1817.0,1529.7L1819.1,1529.6L1821.2,1529.5L1823.2,1529.4L1825.3,1529.4L1828.3,1529.5L1831.3,1529.6L1833.3,1529.8L1835.3,1529.9L1837.3,1530.1L1839.4,1530.3L1841.4,1530.6L1843.5,1531.0L1845.6,1531.4L1847.7,1531.8L1849.7,1532.3L1852.4,1533.1L1855.2,1534.0L1857.1,1534.7L1859.0,1535.4L1861.0,1536.2L1863.0,1536.9L1865.0,1537.7L1867.0,1538.5L1868.9,1539.3L1870.9,1540.1L1872.8,1540.8L1874.6,1541.6L1876.5,1542.4L1878.4,1543.1L1880.3,1543.9L1882.2,1544.6L1884.1,1545.4L1886.1,1546.2L1888.0,1547.0L1889.9,1547.8L1891.8,1548.6L1893.6,1549.4L1896.4,1550.5L1899.1,1551.8L1901.0,1552.6L1902.8,1553.4L1904.6,1554.2L1906.4,1555.0L1908.3,1555.8L1911.0,1557.1L1913.8,1558.2L1915.6,1559.0L1917.5,1559.9L1919.4,1560.7L1921.3,1561.4L1923.3,1562.2L1925.2,1563.0L1927.1,1563.8L1928.9,1564.5L1930.8,1565.2L1932.7,1566.0L1934.6,1566.7L1936.5,1567.4L1938.4,1568.1L1940.5,1568.9L1942.7,1569.6L1944.9,1570.4L1947.2,1571.2L1949.3,1572.0L1951.3,1572.6L1954.0,1573.6L1956.4,1574.4L1958.3,1575.1L1961.1,1576.2L1963.0,1577.1L1964.0,1577.5" fill="none" stroke="#ff0000" stroke-width="8" stroke-linejoin="round"/>
<path d="M456.0,247.0V327.0" stroke="#8a8a8a" stroke-width="3" fill="none"/><path d="M445.0,325.0L467.0,325.0L456.0,367.0Z" fill="#000"/>
<path d="M557,987.5H740" stroke="#8a8a8a" stroke-width="3" fill="none"/>
<path d="M558.5,986.0V1116.0" stroke="#8a8a8a" stroke-width="3" fill="none"/><path d="M547.5,1114.0L569.5,1114.0L558.5,1156.0Z" fill="#000"/>
<path d="M995.6,845.0V971.0" stroke="#8a8a8a" stroke-width="3" fill="none"/><path d="M984.6,969.0L1006.6,969.0L995.6,1011.0Z" fill="#000"/>
<path d="M1163.5,406.5H1486" stroke="#8a8a8a" stroke-width="3" fill="none"/>
<path d="M1165.0,405.0V538.5" stroke="#8a8a8a" stroke-width="3" fill="none"/><path d="M1154.0,536.5L1176.0,536.5L1165.0,578.5Z" fill="#000"/>
<path d="M1361.5,1121.5V1247.0" stroke="#8a8a8a" stroke-width="3" fill="none"/><path d="M1350.5,1245.0L1372.5,1245.0L1361.5,1287.0Z" fill="#000"/>
<text x="366.9" y="207.5" class="i" font-size="83.0">H</text>
<text x="427.6" y="230.5" class="i" font-size="57.0" textLength="28.8" lengthAdjust="spacingAndGlyphs">A</text>
<text x="463.3" y="207.5" class="i" font-size="83.0" textLength="141.1" lengthAdjust="spacingAndGlyphs">(Na)</text>
<text x="571.8" y="947.5" class="i" font-size="83.0">I</text>
<text x="602.3" y="969.5" class="i" font-size="57.0" textLength="26.0" lengthAdjust="spacingAndGlyphs">A</text>
<text x="636.7" y="947.5" class="i" font-size="83.0" textLength="143.7" lengthAdjust="spacingAndGlyphs">(Na)</text>
<text x="304.9" y="904.5" class="i" font-size="83.0">F′</text>
<text x="799.2" y="1090.5" class="i" font-size="83.0">V</text>
<text x="845.2" y="1113.5" class="i" font-size="57.0">K</text>
<text x="954.2" y="790.0" class="i" font-size="83.0">V</text>
<text x="999.8" y="813.5" class="i" font-size="57.0">F</text>
<text x="1238.2" y="358.5" class="i" font-size="83.0">V</text>
<text x="1285.6" y="382.5" class="i" font-size="57.0" textLength="66.7" lengthAdjust="spacingAndGlyphs">KA</text>
<text x="1359.6" y="358.5" class="i" font-size="83.0">(Na)</text>
<text x="1279.2" y="1074.0" class="i" font-size="83.0">V</text>
<text x="1322.6" y="1096.5" class="i" font-size="57.0" textLength="99.7" lengthAdjust="spacingAndGlyphs">KAA</text>
<text x="1430.8" y="1074.5" class="i" font-size="83.0" textLength="141.1" lengthAdjust="spacingAndGlyphs">(Na)</text>
<text x="1707.6" y="984.5" class="i" font-size="83.0">(Cl</text>
<text x="1808.6" y="950.3" class="i" font-size="52.0">-</text>
<text x="1810.6" y="1006.5" class="i" font-size="57.0">3</text>
<text x="1843.4" y="984.5" class="i" font-size="83.0">)</text>
<text x="1861.8" y="1007.0" class="i" font-size="57.0">aca</text>
<text x="1512.1" y="640.5" class="r" font-size="100.0">KCl:Na</text>
<text x="507.1" y="806.0" class="r" font-size="85.0" textLength="44.9" lengthAdjust="spacingAndGlyphs">2</text>
<text x="1250.6" y="759.3" class="r" font-size="85.0" textLength="44.3" lengthAdjust="spacingAndGlyphs">2</text>
<text x="1870.3" y="1514.0" class="r" font-size="85.0" textLength="45.2" lengthAdjust="spacingAndGlyphs">2</text>
<text x="384.1" y="1489.0" class="r" font-size="85.0" textLength="28.1" lengthAdjust="spacingAndGlyphs">1</text>
<text x="946.1" y="1449.8" class="r" font-size="85.0" textLength="27.7" lengthAdjust="spacingAndGlyphs">1</text>
<text x="1645.6" y="1289.5" class="r" font-size="85.0" textLength="30.5" lengthAdjust="spacingAndGlyphs">1</text>
</svg></body></html>
